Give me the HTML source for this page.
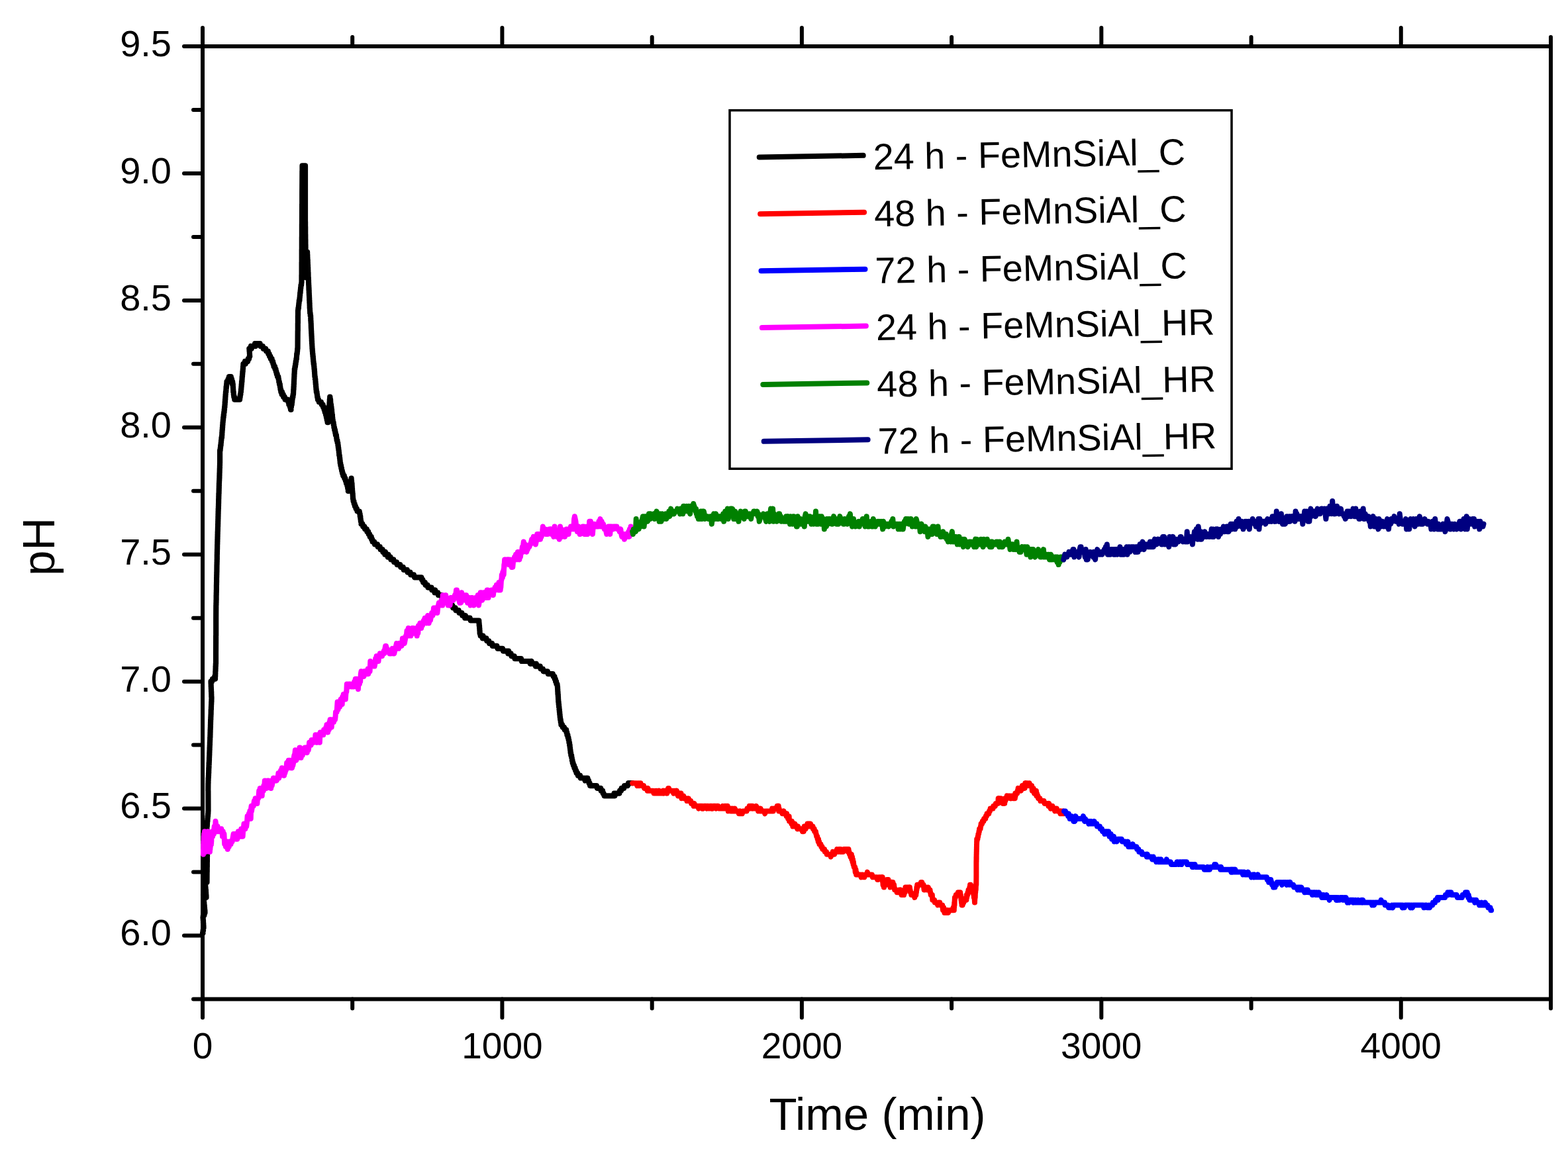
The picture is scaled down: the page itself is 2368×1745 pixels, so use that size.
<!DOCTYPE html>
<html><head><meta charset="utf-8"><title>pH vs Time</title>
<style>html,body{margin:0;padding:0;background:#fff;}body{width:2368px;height:1745px;overflow:hidden;}svg{display:block;}</style>
</head><body>
<svg width="2368" height="1745" viewBox="0 0 2368 1745">
<rect width="2368" height="1745" fill="#fff"/>
<path d="M306,70 H2342 M306,1509.5 H2342 M306,70 V1509.5 M2342,70 V1509.5" stroke="#000" stroke-width="6" stroke-linecap="square" fill="none"/>
<path d="M306,1509.5 V1537.5 M306,70 V42 M532.2,1509.5 V1523.5 M532.2,70 V56 M758.4,1509.5 V1537.5 M758.4,70 V42 M984.7,1509.5 V1523.5 M984.7,70 V56 M1210.9,1509.5 V1537.5 M1210.9,70 V42 M1437.1,1509.5 V1523.5 M1437.1,70 V56 M1663.3,1509.5 V1537.5 M1663.3,70 V42 M1889.6,1509.5 V1523.5 M1889.6,70 V56 M2115.8,1509.5 V1537.5 M2115.8,70 V42 M2342,1509.5 V1523.5 M2342,70 V56 M306,1509.5 H292 M306,1413.5 H278 M306,1317.6 H292 M306,1221.6 H278 M306,1125.6 H292 M306,1029.7 H278 M306,933.7 H292 M306,837.7 H278 M306,741.8 H292 M306,645.8 H278 M306,549.8 H292 M306,453.9 H278 M306,357.9 H292 M306,261.9 H278 M306,166 H292 M306,70 H278" stroke="#000" stroke-width="6" stroke-linecap="round" fill="none"/>
<path d="M306,1409.7 L306.5,1409.7 L306.6,1405.9 L307,1405.9 L307.1,1402 L307.5,1402 L307.4,1398.2 L307.3,1398.2 L307.2,1394.4 L307,1394.4 L307,1390.5 L306.8,1390.5 L306.7,1386.7 L306.5,1386.7 L306.9,1382.8 L308.4,1382.8 L308.8,1379 L309.5,1379 L309.4,1375.2 L309.1,1375.2 L309,1371.3 L308.8,1371.3 L308.7,1367.5 L308.4,1367.5 L308.3,1363.6 L308,1363.6 L307.9,1359.8 L307.7,1359.8 L307.6,1356 L307.4,1356 L307.3,1352.1 L307,1352.1 L310.4,1352.1 L311.5,1356 L311.4,1352.1 L311.2,1352.1 L311.1,1348.3 L311,1348.3 L310.9,1344.4 L310.6,1344.4 L310.5,1340.6 L310.3,1340.6 L310.2,1336.8 L310.1,1336.8 L310,1332.9 L309.9,1336.8 L309.9,1332.9 L309.7,1332.9 L309.6,1329.1 L309.4,1329.1 L309.3,1325.3 L309.2,1325.3 L309.1,1321.4 L309,1321.4 L309.4,1325.3 L310.6,1325.3 L310.9,1329.1 L312.1,1329.1 L312.5,1332.9 L312.6,1317.6 L312.7,1317.6 L312.7,1309.9 L312.8,1309.9 L312.8,1302.2 L312.9,1302.2 L312.9,1294.5 L313,1294.5 L313,1290.7 L313,1294.5 L313,1290.7 L312.9,1290.7 L312.8,1286.9 L312.5,1286.9 L312.5,1283 L312.2,1283 L312.1,1279.2 L311.8,1279.2 L311.7,1275.4 L311.5,1275.4 L311.5,1271.5 L311.3,1271.5 L311.2,1267.7 L311,1267.7 L311.2,1267.7 L311.2,1263.8 L311.5,1263.8 L311.6,1260 L311.7,1260 L311.8,1256.2 L312.1,1256.2 L312.1,1252.3 L312.4,1252.3 L312.5,1248.5 L312.6,1248.5 L312.7,1244.6 L312.8,1248.5 L312.9,1244.6 L313,1244.6 L313,1240.8 L313.4,1240.8 L313.4,1237 L313.6,1237 L313.7,1233.1 L314,1233.1 L314.1,1229.3 L314.3,1229.3 L314.4,1225.4 L314.5,1225.4 L314.4,1194.7 L314.3,1194.7 L314.4,1183.2 L314.5,1183.2 L314.5,1179.4 L314.6,1179.4 L314.6,1175.5 L314.8,1175.5 L314.9,1171.7 L315,1171.7 L315,1167.9 L315.2,1167.9 L315.2,1164 L315.3,1164 L315.3,1160.2 L315.5,1160.2 L315.5,1156.4 L315.6,1156.4 L315.6,1152.5 L315.7,1156.4 L315.7,1152.5 L315.8,1152.5 L315.9,1148.7 L316,1148.7 L316,1144.8 L316.1,1144.8 L316.2,1141 L316.3,1141 L316.3,1137.2 L316.4,1137.2 L316.5,1133.3 L316.6,1133.3 L316.6,1129.5 L316.7,1129.5 L316.8,1125.6 L316.9,1125.6 L316.9,1121.8 L317,1121.8 L317.1,1118 L317.2,1118 L317.2,1114.1 L317.4,1114.1 L317.4,1110.3 L317.5,1110.3 L317.5,1106.4 L317.6,1106.4 L317.6,1102.6 L317.7,1102.6 L317.8,1098.8 L317.9,1098.8 L317.9,1094.9 L318,1094.9 L318,1091.1 L318.1,1091.1 L318.1,1087.3 L318.3,1087.3 L318.3,1083.4 L318.4,1083.4 L318.5,1079.6 L318.6,1079.6 L318.7,1071.9 L318.9,1071.9 L318.9,1068.1 L319,1068.1 L319.1,1064.2 L319.2,1064.2 L319.2,1060.4 L319.4,1060.4 L319.4,1056.5 L319.5,1056.5 L319.5,1052.7 L319.3,1052.7 L319.3,1048.9 L319.2,1048.9 L319.2,1045 L319,1045 L319,1041.2 L318.9,1041.2 L318.8,1037.4 L318.7,1037.4 L318.7,1033.5 L318.6,1033.5 L318.5,1029.7 L320.1,1029.7 L320.9,1025.8 L323.4,1025.8 L324.2,1022 L325,1025.8 L325,1022 L325.2,1022 L325.2,1018.2 L325.3,1018.2 L325.3,1014.3 L325.5,1014.3 L325.5,1010.5 L325.6,1010.5 L325.6,1006.6 L325.8,1006.6 L325.8,1002.8 L326,1002.8 L326,987.4 L326.1,968.3 L326.1,972.1 L326.1,960.6 L326.2,960.6 L326.2,945.2 L326.2,949.1 L326.2,933.7 L326.3,914.5 L326.4,914.5 L326.4,910.7 L326.5,910.7 L326.5,906.8 L326.6,906.8 L326.6,899.2 L326.7,899.2 L326.7,895.3 L326.8,895.3 L326.8,891.5 L326.9,891.5 L326.9,883.8 L327,883.8 L327,880 L327.1,880 L327.1,872.3 L327.2,872.3 L327.2,868.4 L327.3,868.4 L327.3,864.6 L327.3,868.4 L327.3,864.6 L327.4,864.6 L327.5,853.1 L327.6,853.1 L327.6,849.3 L327.7,849.3 L327.7,845.4 L327.8,845.4 L327.8,837.7 L327.9,837.7 L327.9,833.9 L328,833.9 L328,830.1 L328.1,830.1 L328.2,822.4 L328.3,822.4 L328.3,818.5 L328.4,818.5 L328.4,814.7 L328.5,814.7 L328.5,810.9 L328.6,810.9 L328.6,807 L328.7,807 L328.7,803.2 L328.8,803.2 L329,795.5 L329.1,795.5 L329.1,791.7 L329.2,791.7 L329.2,787.8 L329.3,787.8 L329.3,784 L329.4,784 L329.4,780.2 L329.5,780.2 L329.5,776.3 L329.6,776.3 L329.6,772.5 L329.7,772.5 L329.7,768.6 L329.9,768.6 L329.9,764.8 L330,764.8 L330,761 L330.1,761 L330.2,753.3 L330.3,753.3 L330.3,749.4 L330.4,749.4 L330.4,745.6 L330.6,745.6 L330.7,737.9 L330.7,741.8 L330.7,737.9 L330.8,737.9 L330.8,734.1 L330.9,734.1 L330.9,730.3 L331,730.3 L331.1,726.4 L331.2,726.4 L331.3,722.6 L331.4,722.6 L331.4,718.7 L331.5,718.7 L331.5,714.9 L331.6,714.9 L331.8,707.2 L331.9,707.2 L331.9,703.4 L332,703.4 L332,699.5 L332.1,699.5 L332.1,680.4 L332.6,680.4 L332.8,676.5 L333,676.5 L333.2,672.7 L333.6,672.7 L333.7,668.8 L333.9,668.8 L334.1,665 L334.3,665 L334.5,661.2 L335,661.2 L335.1,657.3 L335.3,657.3 L335.3,653.5 L335.5,653.5 L335.6,649.6 L335.8,649.6 L335.9,645.8 L336.1,645.8 L336.2,642 L336.4,642 L336.5,638.1 L336.7,638.1 L336.9,634.3 L337.1,634.3 L337.2,630.5 L337.6,630.5 L337.7,626.6 L338.1,626.6 L338.2,622.8 L338.6,622.8 L338.7,618.9 L339,618.9 L339.1,615.1 L339.4,615.1 L339.5,611.3 L339.7,611.3 L339.7,607.4 L340,607.4 L340,603.6 L340.3,603.6 L340.3,599.7 L340.5,599.7 L340.6,595.9 L340.8,595.9 L340.9,592.1 L341.3,592.1 L341.4,588.2 L341.5,588.2 L341.6,584.4 L341.7,588.2 L341.8,584.4 L342,584.4 L342.1,580.5 L342.4,580.5 L342.5,576.7 L344,576.7 L344.5,572.9 L345.4,572.9 L345.9,569 L348.8,569 L349.1,572.9 L350,572.9 L350.3,576.7 L350.6,576.7 L350.9,580.5 L351.2,576.7 L351.5,580.5 L351.8,580.5 L351.8,584.4 L352,584.4 L352.1,588.2 L352.2,588.2 L352.3,592.1 L352.7,592.1 L352.8,595.9 L353,595.9 L353.3,599.7 L354,599.7 L354.3,603.6 L362.1,603.6 L362.3,599.7 L362.7,599.7 L362.9,595.9 L363.4,595.9 L363.6,592.1 L363.9,592.1 L364,588.2 L364.3,588.2 L364.4,584.4 L364.6,584.4 L364.7,580.5 L365,580.5 L365,576.7 L365.4,576.7 L365.5,572.9 L365.6,572.9 L365.7,569 L366,569 L366.1,565.2 L366.3,565.2 L366.4,561.4 L366.7,561.4 L366.8,557.5 L367,557.5 L367.1,553.7 L367.3,553.7 L367.4,549.8 L369.1,549.8 L370,546 L370.8,549.8 L371.6,546 L374.1,546 L374.7,542.2 L376,542.2 L376.7,538.3 L377.3,538.3 L377.1,538.3 L377,534.5 L376.9,534.5 L376.8,530.6 L376.6,530.6 L376.5,526.8 L376.3,526.8 L378,526.8 L378.9,523 L379.8,526.8 L380.6,523 L384.1,523 L385,519.1 L386.1,523 L387.1,519.1 L392.7,519.1 L393.4,523 L396.9,523 L397.6,526.8 L401.2,526.8 L402.1,530.6 L404.8,530.6 L405.2,534.5 L406.6,534.5 L407,538.3 L408.4,538.3 L408.8,542.2 L410.6,542.2 L410.9,546 L412.1,546 L412.4,549.8 L413.2,549.8 L413.5,553.7 L415,553.7 L415.4,557.5 L416.5,557.5 L416.8,561.4 L417.4,561.4 L417.8,565.2 L418.7,565.2 L419,569 L420.3,569 L420.6,572.9 L420.9,572.9 L421.2,576.7 L421.8,576.7 L422,580.5 L422.8,580.5 L422.9,584.4 L423.3,584.4 L423.5,588.2 L424.1,588.2 L424.3,592.1 L425.2,592.1 L425.6,595.9 L426,592.1 L426.4,595.9 L427.7,595.9 L428.1,599.7 L429.8,599.7 L430.6,603.6 L434.5,603.6 L435.3,607.4 L436,607.4 L436.3,611.3 L436.6,607.4 L437,611.3 L437.6,611.3 L438,615.1 L438.6,615.1 L439,618.9 L439.5,618.9 L439.6,615.1 L439.9,615.1 L440.1,611.3 L440.7,611.3 L440.9,607.4 L441.2,607.4 L441.3,603.6 L441.6,603.6 L441.8,599.7 L442.4,599.7 L442.6,595.9 L443,595.9 L443.3,588.2 L443.5,588.2 L443.5,584.4 L443.7,584.4 L443.7,580.5 L443.9,580.5 L443.9,576.7 L444,576.7 L444.1,572.9 L444.2,572.9 L444.3,569 L444.4,569 L444.4,565.2 L444.6,565.2 L444.7,561.4 L444.8,561.4 L444.8,557.5 L445.3,557.5 L445.5,553.7 L446,553.7 L446.2,549.8 L446.6,549.8 L446.7,546 L447.2,546 L447.4,542.2 L447.9,542.2 L448,538.3 L448.1,538.3 L448.2,534.5 L448.7,534.5 L448.9,530.6 L449.1,530.6 L449.2,526.8 L449.5,526.8 L449.7,499.9 L449.8,499.9 L449.8,488.4 L449.9,488.4 L449.9,476.9 L450,476.9 L450,469.2 L450.2,469.2 L450.4,465.4 L450.9,465.4 L451,461.5 L451.2,461.5 L451.4,457.7 L451.6,457.7 L451.8,453.9 L452.4,453.9 L452.5,450 L452.7,450 L452.9,446.2 L453.1,446.2 L453.2,442.4 L453.6,442.4 L453.7,438.5 L453.9,438.5 L454.1,434.7 L454.4,434.7 L454.5,430.8 L455.1,430.8 L455.3,427 L455.5,427 L455.5,415.5 L455.6,415.5 L455.6,396.3 L455.7,396.3 L455.7,377.1 L455.8,377.1 L455.8,357.9 L455.9,357.9 L455.9,338.7 L456,338.7 L456.1,308 L456.2,308 L456.2,292.6 L456.3,277.3 L456.3,281.1 L456.4,258.1 L456.5,258.1 L456.5,250.4 L461,250.4 L461,288.8 L461,285 L461,327.2 L461,323.4 L461,331 L461,327.2 L461,334.9 L461.1,334.9 L461.1,338.7 L461.1,334.9 L461.1,342.5 L461.2,342.5 L461.2,354.1 L461.3,354.1 L461.3,361.7 L461.4,361.7 L461.4,369.4 L461.5,369.4 L461.6,388.6 L461.7,388.6 L461.8,407.8 L461.9,407.8 L461.9,415.5 L462,415.5 L462,419.3 L462.1,419.3 L462.2,415.5 L462.3,415.5 L462.4,411.6 L462.5,411.6 L462.6,407.8 L462.7,407.8 L462.8,404 L462.9,404 L462.9,400.1 L463.1,400.1 L463.1,396.3 L463.2,396.3 L463.3,392.5 L463.4,392.5 L463.4,388.6 L463.6,388.6 L463.7,384.8 L463.8,384.8 L463.9,380.9 L464.1,380.9 L464.1,384.8 L464.3,384.8 L464.3,388.6 L464.4,388.6 L464.5,392.5 L464.7,392.5 L464.7,396.3 L464.8,396.3 L464.8,400.1 L465,400.1 L465,404 L465.2,404 L465.2,407.8 L465.3,407.8 L465.3,411.6 L465.5,411.6 L465.6,419.3 L465.8,419.3 L465.8,423.2 L466,423.2 L466,427 L466.1,427 L466.2,430.8 L466.3,430.8 L466.5,438.5 L466.5,434.7 L466.6,438.5 L466.7,438.5 L466.7,442.4 L466.8,442.4 L466.9,446.2 L467,446.2 L467.1,450 L467.2,450 L467.2,453.9 L467.4,453.9 L467.4,457.7 L467.6,457.7 L467.6,461.5 L467.7,461.5 L467.7,465.4 L467.9,465.4 L468,469.2 L468.1,469.2 L468.2,473.1 L468.6,473.1 L468.7,476.9 L469.1,476.9 L469.2,480.7 L469.3,480.7 L469.3,484.6 L469.5,484.6 L469.6,488.4 L469.7,488.4 L469.9,496.1 L470,496.1 L470.1,499.9 L470.2,499.9 L470.3,503.8 L470.4,503.8 L470.5,507.6 L470.6,507.6 L470.7,511.5 L470.8,511.5 L470.8,515.3 L471,515.3 L471,519.1 L471.2,519.1 L471.3,523 L471.4,523 L471.5,526.8 L471.7,526.8 L471.8,530.6 L472,530.6 L472.1,534.5 L472.4,534.5 L472.5,538.3 L472.8,538.3 L472.9,542.2 L473.1,542.2 L473.2,546 L473.5,546 L473.6,549.8 L474.1,549.8 L474.2,553.7 L474.4,553.7 L474.5,557.5 L474.8,557.5 L474.9,561.4 L475.1,561.4 L475.2,565.2 L475.3,565.2 L475.4,569 L475.8,569 L475.9,572.9 L476.3,572.9 L476.4,576.7 L476.6,576.7 L476.7,580.5 L477,580.5 L477.1,584.4 L477.3,584.4 L477.4,588.2 L477.7,588.2 L477.8,592.1 L478.5,592.1 L478.7,595.9 L479,595.9 L479.2,599.7 L479.7,599.7 L479.9,603.6 L481,603.6 L481.8,607.4 L484.9,607.4 L485.7,611.3 L487.6,611.3 L488,615.1 L489.3,615.1 L489.6,618.9 L490.3,618.9 L490.7,622.8 L491.7,622.8 L492,626.6 L492.6,626.6 L492.9,630.5 L493.5,630.5 L493.7,634.3 L494.3,634.3 L494.6,638.1 L495.4,638.1 L495.5,634.3 L495.7,634.3 L495.8,630.5 L496.1,630.5 L496.2,626.6 L496.3,626.6 L496.4,622.8 L496.4,626.6 L496.5,622.8 L496.6,622.8 L496.7,618.9 L497,618.9 L497.1,615.1 L497.2,615.1 L497.3,611.3 L497.5,611.3 L497.6,607.4 L497.8,607.4 L497.8,603.6 L498.1,603.6 L498.2,599.7 L498.4,599.7 L498.6,603.6 L499.1,603.6 L499.2,607.4 L499.3,607.4 L499.4,611.3 L500,611.3 L500.1,615.1 L500.5,615.1 L500.6,618.9 L501,618.9 L501.1,622.8 L501.3,622.8 L501.5,626.6 L501.9,626.6 L502,630.5 L502.2,630.5 L502.4,634.3 L502.7,634.3 L502.9,638.1 L503.6,638.1 L503.8,642 L504.2,642 L504.4,645.8 L505,645.8 L505.2,649.6 L506,649.6 L506.2,653.5 L506.7,653.5 L506.9,657.3 L507.9,657.3 L508.1,661.2 L508.4,661.2 L508.6,665 L509.4,665 L509.6,668.8 L510.2,668.8 L510.4,672.7 L510.7,672.7 L510.9,676.5 L511.2,676.5 L511.4,680.4 L511.7,680.4 L511.9,684.2 L512.1,684.2 L512.2,688 L512.7,688 L512.9,691.9 L513.2,691.9 L513.4,695.7 L513.6,695.7 L513.7,699.5 L514.2,699.5 L514.4,703.4 L515.1,703.4 L515.3,707.2 L515.9,707.2 L516.1,711.1 L516.8,711.1 L517,714.9 L517.8,714.9 L518.2,718.7 L519.8,718.7 L520.2,722.6 L521.4,722.6 L521.8,726.4 L522.6,726.4 L523,730.3 L524.2,730.3 L524.4,734.1 L525.1,734.1 L525.2,737.9 L525.6,737.9 L525.8,741.8 L526.4,741.8 L526.6,737.9 L527.4,737.9 L527.6,734.1 L528.4,734.1 L528.6,730.3 L529.4,730.3 L529.6,726.4 L530.4,726.4 L530.6,722.6 L530.7,726.4 L531,726.4 L531,730.3 L531.3,730.3 L531.4,734.1 L531.5,730.3 L531.6,734.1 L531.7,734.1 L531.8,737.9 L532,737.9 L532.1,741.8 L532.3,741.8 L532.4,745.6 L532.7,745.6 L532.8,749.4 L532.9,749.4 L533,753.3 L533.3,753.3 L533.6,757.1 L534.4,757.1 L534.7,761 L535.6,761 L535.9,764.8 L537,764.8 L537.6,768.6 L538.9,768.6 L539.5,772.5 L542.7,772.5 L543.3,776.3 L543.6,776.3 L543.8,780.2 L544.3,780.2 L544.4,784 L544.7,784 L544.9,787.8 L545.4,787.8 L545.5,791.7 L547.5,791.7 L548.2,795.5 L550.4,795.5 L551.1,799.4 L553.8,799.4 L554.3,803.2 L556.2,803.2 L556.7,807 L558.2,807 L558.7,810.9 L560.7,810.9 L561.1,814.7 L562.1,814.7 L562.6,818.5 L565.2,818.5 L566,822.4 L569.9,822.4 L570.7,826.2 L573.8,826.2 L574.6,830.1 L577.6,830.1 L578.3,833.9 L580.5,833.9 L581.3,837.7 L582,833.9 L582.8,837.7 L585,837.7 L585.7,841.6 L586.5,837.7 L587.2,841.6 L589.6,841.6 L590.4,845.4 L594.3,845.4 L595.1,849.3 L599,849.3 L599.8,853.1 L604.3,853.1 L605.2,856.9 L608.8,856.9 L609.7,860.8 L614.8,860.8 L615.5,864.6 L619.5,864.6 L620.3,868.4 L625,868.4 L626,872.3 L636.4,872.3 L637.1,876.1 L638.5,876.1 L639.1,880 L641.9,880 L642.5,883.8 L645.6,883.8 L646.4,887.6 L651.5,887.6 L652.3,891.5 L655.7,891.5 L656.5,895.3 L657.3,891.5 L658.1,895.3 L661.2,895.3 L662,899.2 L666.7,899.2 L667.4,903 L669.8,903 L670.6,906.8 L675.3,906.8 L676.1,910.7 L679.2,910.7 L680,914.5 L683.3,914.5 L684.2,918.4 L687.6,918.4 L688.5,922.2 L692.7,922.2 L693.5,926 L697.4,926 L698.2,929.9 L701.3,929.9 L702.1,933.7 L702.9,929.9 L703.7,933.7 L709.7,933.7 L710.7,937.5 L723.3,937.5 L723.4,941.4 L723.6,941.4 L723.7,945.2 L724,945.2 L724.1,949.1 L724.3,949.1 L724.4,952.9 L724.6,952.9 L724.6,956.7 L724.9,956.7 L725.7,960.6 L728.1,960.6 L728.9,964.4 L729.6,960.6 L730.4,964.4 L734.4,964.4 L735.2,968.3 L738.3,968.3 L739.1,972.1 L743,972.1 L743.8,975.9 L750.4,975.9 L751.4,979.8 L759,979.8 L760,983.6 L766.4,983.6 L767.3,987.4 L768.2,983.6 L769,987.4 L771.6,987.4 L772.4,991.3 L776.7,991.3 L777.5,995.1 L787,995.1 L787.9,999 L799.7,999 L800.7,1002.8 L801.7,1002.8 L802.7,999 L803.7,1002.8 L808.2,1002.8 L809,1006.6 L809.9,1002.8 L810.7,1006.6 L815.7,1006.6 L816.5,1010.5 L819.8,1010.5 L820.7,1014.3 L826.9,1014.3 L827.8,1018.2 L834.8,1018.2 L835.7,1022 L837.4,1022 L837.7,1025.8 L838.8,1025.8 L839.1,1029.7 L840.1,1029.7 L840.4,1033.5 L841.5,1033.5 L841.8,1037.4 L842,1037.4 L842.1,1041.2 L842.2,1041.2 L842.3,1045 L842.4,1045 L842.5,1048.9 L842.5,1045 L842.6,1048.9 L842.8,1048.9 L842.9,1052.7 L843,1052.7 L843.1,1056.5 L843.2,1056.5 L843.3,1060.4 L843.6,1060.4 L843.7,1064.2 L844,1064.2 L844.1,1068.1 L844.4,1068.1 L844.5,1071.9 L844.8,1071.9 L844.9,1075.7 L845.2,1075.7 L845.3,1079.6 L845.6,1079.6 L845.7,1083.4 L846,1083.4 L846.2,1087.3 L846.7,1087.3 L846.8,1091.1 L847.3,1091.1 L847.4,1094.9 L849.1,1094.9 L849.8,1098.8 L852,1098.8 L852.7,1102.6 L855.2,1102.6 L855.4,1106.4 L856.2,1106.4 L856.4,1110.3 L857.4,1110.3 L857.7,1114.1 L858.4,1114.1 L858.7,1118 L859.2,1118 L859.4,1121.8 L860,1121.8 L860.1,1125.6 L860.6,1125.6 L860.7,1129.5 L861,1129.5 L861.2,1133.3 L861.5,1133.3 L861.6,1137.2 L862.1,1137.2 L862.3,1141 L863.1,1141 L863.3,1144.8 L863.7,1144.8 L863.9,1148.7 L864.5,1148.7 L864.7,1152.5 L865.5,1152.5 L865.9,1156.4 L867,1156.4 L867.4,1160.2 L868.6,1160.2 L869,1164 L870.1,1164 L870.5,1167.9 L872.2,1167.9 L872.9,1171.7 L876.1,1171.7 L876.8,1175.5 L882.5,1175.5 L883.6,1179.4 L884.7,1175.5 L887.4,1175.5 L888,1179.4 L889,1179.4 L889.5,1183.2 L890.6,1183.2 L891.1,1187.1 L901,1187.1 L901.9,1190.9 L907.2,1190.9 L907.7,1194.7 L910.1,1194.7 L910.6,1198.6 L911.6,1198.6 L912.6,1202.4 L926.6,1202.4 L927.5,1198.6 L928.5,1202.4 L929.5,1198.6 L935.4,1198.6 L936,1194.7 L938,1194.7 L938.6,1190.9 L942.2,1190.9 L943,1187.1 L947.9,1187.1 L948.9,1183.2 L955.2,1183.2" fill="none" stroke="#000" stroke-width="8.2" stroke-linejoin="round" stroke-linecap="round"/>
<path d="M955.2,1183.2 L961.2,1183.2 L962.2,1187.1 L963.2,1183.2 L964.2,1183.2 L965.2,1187.1 L966,1183.2 L967.5,1183.2 L968.2,1187.1 L972.1,1187.1 L973,1190.9 L976.7,1190.9 L977.6,1194.7 L978.5,1190.9 L979.4,1194.7 L986.4,1194.7 L987.4,1198.6 L989.4,1198.6 L990.4,1194.7 L991.4,1194.7 L992.5,1198.6 L994.5,1198.6 L995.5,1194.7 L996.5,1198.6 L1000.6,1198.6 L1001.6,1194.7 L1002.4,1198.6 L1003.3,1194.7 L1006.6,1194.7 L1007.4,1198.6 L1009.1,1190.9 L1010.1,1190.9 L1011.1,1194.7 L1016.2,1194.7 L1017.2,1198.6 L1018.2,1194.7 L1019.2,1194.7 L1020.1,1198.6 L1021,1198.6 L1022,1194.7 L1023.9,1202.4 L1024.8,1198.6 L1025.8,1202.4 L1026.7,1198.6 L1028.5,1198.6 L1029.4,1206.3 L1030.3,1202.4 L1032.2,1202.4 L1033.1,1206.3 L1036.6,1206.3 L1037.4,1210.1 L1039,1210.1 L1039.9,1206.3 L1040.7,1210.1 L1043.2,1210.1 L1044,1213.9 L1046.7,1213.9 L1047.6,1217.8 L1048.5,1213.9 L1049.5,1217.8 L1054.1,1217.8 L1055.1,1221.6 L1056.1,1217.8 L1059.2,1217.8 L1060.2,1221.6 L1061.2,1217.8 L1062.2,1221.6 L1063.2,1217.8 L1066.3,1217.8 L1067.3,1221.6 L1068.3,1217.8 L1069.3,1217.8 L1070.3,1221.6 L1071.3,1221.6 L1072.3,1217.8 L1073.4,1217.8 L1074.4,1221.6 L1075.4,1217.8 L1076.4,1221.6 L1077.4,1217.8 L1080.4,1217.8 L1081.4,1221.6 L1082.5,1217.8 L1084.5,1217.8 L1085.5,1221.6 L1090.6,1221.6 L1091.6,1217.8 L1092.6,1221.6 L1093.6,1221.6 L1094.6,1217.8 L1095.6,1217.8 L1096.6,1221.6 L1097.6,1217.8 L1098.7,1217.8 L1099.7,1225.4 L1100.7,1221.6 L1102.7,1221.6 L1103.7,1225.4 L1104.7,1221.6 L1105.7,1225.4 L1106.7,1221.6 L1107.7,1225.4 L1108.7,1225.4 L1109.8,1221.6 L1110.8,1225.4 L1114.8,1225.4 L1115.8,1229.3 L1116.8,1229.3 L1117.8,1225.4 L1118.8,1229.3 L1120.8,1229.3 L1121.9,1225.4 L1127.6,1225.4 L1128.4,1221.6 L1130.9,1221.6 L1131.7,1217.8 L1132.5,1221.6 L1133.3,1217.8 L1135,1217.8 L1136,1221.6 L1137,1217.8 L1138,1221.6 L1141.1,1221.6 L1142.1,1217.8 L1143.1,1221.6 L1144.1,1221.6 L1145,1225.4 L1145.9,1221.6 L1146.8,1221.6 L1147.7,1225.4 L1148.7,1221.6 L1149.6,1225.4 L1154.2,1225.4 L1155.2,1229.3 L1156.2,1225.4 L1165.3,1225.4 L1166.1,1221.6 L1167,1225.4 L1167.8,1225.4 L1168.6,1221.6 L1172.7,1221.6 L1173.6,1217.8 L1174.8,1217.8 L1175.3,1221.6 L1175.7,1217.8 L1176.2,1225.4 L1176.6,1221.6 L1177.1,1225.4 L1180.5,1225.4 L1181.5,1229.3 L1182.6,1229.3 L1183.6,1225.4 L1184.6,1229.3 L1187.1,1229.3 L1187.6,1233.1 L1188.1,1229.3 L1188.6,1233.1 L1189.6,1233.1 L1190.1,1237 L1191.1,1237 L1191.6,1233.1 L1192.1,1240.8 L1194.6,1240.8 L1195.3,1244.6 L1196,1240.8 L1197.3,1248.5 L1198,1244.6 L1198.7,1248.5 L1199.6,1248.5 L1200.5,1244.6 L1201.4,1248.5 L1203.2,1248.5 L1204.2,1252.3 L1205.1,1248.5 L1206,1252.3 L1210.8,1252.3 L1211.9,1256.2 L1212.9,1252.3 L1213.9,1256.2 L1214.6,1248.5 L1215.3,1252.3 L1216.7,1252.3 L1217.4,1248.5 L1218.7,1248.5 L1219.4,1244.6 L1220.1,1244.6 L1220.8,1248.5 L1221.5,1244.6 L1222.4,1244.6 L1223.2,1248.5 L1224.1,1244.6 L1224.9,1248.5 L1227.5,1248.5 L1227.9,1252.3 L1229.7,1252.3 L1230.1,1256.2 L1231.9,1256.2 L1232.3,1260 L1232.7,1260 L1233.2,1263.8 L1234.3,1263.8 L1234.6,1267.7 L1235.3,1267.7 L1235.7,1271.5 L1236,1267.7 L1236.4,1271.5 L1237.1,1271.5 L1237.4,1275.4 L1239.5,1275.4 L1240.2,1279.2 L1241.6,1279.2 L1242.2,1283 L1245,1283 L1245.7,1286.9 L1248,1286.9 L1248.7,1290.7 L1254,1290.7 L1254.8,1294.5 L1255.6,1290.7 L1257.1,1290.7 L1257.8,1286.9 L1258.6,1290.7 L1260.1,1290.7 L1260.9,1286.9 L1262.9,1286.9 L1264,1283 L1265,1286.9 L1266,1286.9 L1267,1283 L1268,1283 L1269.1,1286.9 L1270.1,1283 L1271.2,1286.9 L1273.3,1286.9 L1274.3,1283 L1279.6,1283 L1280.6,1286.9 L1281.1,1286.9 L1281.5,1283 L1282,1286.9 L1282.5,1286.9 L1282.9,1290.7 L1283.9,1290.7 L1284.4,1294.5 L1284.8,1290.7 L1285.3,1294.5 L1285.8,1290.7 L1286.2,1298.4 L1286.7,1298.4 L1287,1294.5 L1287.5,1302.2 L1287.8,1298.4 L1288,1298.4 L1288.6,1306.1 L1288.9,1302.2 L1289.1,1306.1 L1289.4,1306.1 L1289.7,1309.9 L1291.1,1309.9 L1291.7,1317.6 L1291.9,1313.7 L1292.2,1317.6 L1292.5,1313.7 L1293.1,1321.4 L1293.4,1317.6 L1294.4,1321.4 L1299.5,1321.4 L1300.5,1325.3 L1301.6,1321.4 L1302.6,1321.4 L1303.6,1325.3 L1305.4,1325.3 L1306.3,1321.4 L1309,1321.4 L1309.9,1317.6 L1310.8,1321.4 L1316.9,1321.4 L1317.8,1325.3 L1324.1,1325.3 L1325.1,1329.1 L1326.1,1329.1 L1327.1,1325.3 L1332,1325.3 L1332.2,1329.1 L1332.4,1325.3 L1332.7,1325.3 L1333.1,1332.9 L1333.3,1329.1 L1333.5,1336.8 L1333.8,1332.9 L1334,1336.8 L1334.7,1336.8 L1334.9,1340.6 L1335.1,1340.6 L1335.5,1336.8 L1336.4,1336.8 L1336.8,1332.9 L1337.7,1332.9 L1338.1,1336.8 L1338.5,1332.9 L1338.9,1332.9 L1339.4,1329.1 L1340.7,1329.1 L1341.1,1332.9 L1341.5,1329.1 L1342.4,1336.8 L1342.8,1332.9 L1343.2,1336.8 L1344.1,1336.8 L1344.5,1340.6 L1345,1336.8 L1346.3,1336.8 L1346.8,1332.9 L1347.2,1336.8 L1347.7,1332.9 L1348,1336.8 L1348.4,1332.9 L1348.7,1336.8 L1349.4,1336.8 L1349.7,1340.6 L1350.1,1336.8 L1350.4,1340.6 L1350.7,1340.6 L1351.1,1344.4 L1353.5,1344.4 L1354.5,1348.3 L1356.6,1348.3 L1357.7,1344.4 L1359.2,1344.4 L1359.6,1348.3 L1360.1,1344.4 L1360.6,1348.3 L1361.1,1348.3 L1361.5,1352.1 L1365.1,1352.1 L1365.4,1348.3 L1366.8,1348.3 L1367.4,1340.6 L1367.8,1344.4 L1368.1,1344.4 L1369.3,1340.6 L1373.2,1340.6 L1373.6,1344.4 L1373.9,1340.6 L1374.2,1344.4 L1374.6,1344.4 L1374.9,1348.3 L1375.9,1348.3 L1376.3,1352.1 L1380.3,1352.1 L1381.3,1356 L1382.2,1352.1 L1383.3,1352.1 L1383.4,1348.3 L1383.9,1348.3 L1384.1,1344.4 L1384.2,1344.4 L1384.4,1340.6 L1384.5,1344.4 L1384.7,1340.6 L1385,1340.6 L1385.2,1336.8 L1385.3,1336.8 L1385.5,1340.6 L1386.4,1336.8 L1390,1336.8 L1390.9,1332.9 L1392.3,1332.9 L1392.7,1336.8 L1394.6,1336.8 L1395.6,1344.4 L1396.5,1344.4 L1397.5,1340.6 L1398.6,1340.6 L1399.7,1344.4 L1400.7,1344.4 L1401.8,1340.6 L1402.8,1344.4 L1404.5,1344.4 L1404.9,1348.3 L1405.3,1348.3 L1405.7,1352.1 L1407.8,1352.1 L1408.3,1359.8 L1411.1,1359.8 L1411.8,1363.6 L1415,1363.6 L1416.2,1367.5 L1417.3,1363.6 L1419.3,1363.6 L1420.1,1367.5 L1423.2,1367.5 L1424,1375.2 L1424.8,1375.2 L1425.2,1371.3 L1425.6,1375.2 L1426,1375.2 L1426.4,1379 L1427.5,1375.2 L1428.7,1379 L1429.8,1379 L1430.9,1375.2 L1432,1379 L1433.2,1375.2 L1438.5,1375.2 L1439.5,1371.3 L1440.6,1375.2 L1440.8,1375.2 L1440.9,1367.5 L1441,1371.3 L1441.1,1367.5 L1441.2,1367.5 L1441.3,1363.6 L1441.3,1367.5 L1441.4,1363.6 L1441.5,1367.5 L1441.7,1359.8 L1441.8,1359.8 L1441.9,1356 L1442.9,1356 L1443.7,1352.1 L1446,1352.1 L1446.8,1348.3 L1450.2,1348.3 L1450.4,1352.1 L1450.9,1352.1 L1451.1,1356 L1451.3,1356 L1451.5,1359.8 L1451.8,1359.8 L1452,1363.6 L1452.4,1363.6 L1452.6,1367.5 L1452.7,1363.6 L1452.9,1367.5 L1453.1,1363.6 L1453.7,1367.5 L1454.2,1363.6 L1455.4,1363.6 L1456,1359.8 L1458.3,1359.8 L1458.8,1356 L1459.4,1359.8 L1459.8,1352.1 L1460.1,1356 L1460.5,1352.1 L1461.2,1352.1 L1461.5,1348.3 L1462.2,1348.3 L1462.5,1344.4 L1462.9,1348.3 L1463.2,1348.3 L1463.6,1344.4 L1464,1344.4 L1464.3,1340.6 L1464.7,1344.4 L1465,1336.8 L1466,1336.8 L1467,1340.6 L1469.1,1340.6 L1469.4,1348.3 L1469.6,1344.4 L1469.8,1348.3 L1470.2,1348.3 L1470.4,1352.1 L1470.7,1352.1 L1470.9,1356 L1471.1,1356 L1471.3,1352.1 L1471.5,1356 L1471.6,1356 L1472,1363.6 L1472.1,1359.8 L1472.2,1359.8 L1472.3,1356 L1472.5,1356 L1472.6,1352.1 L1472.7,1356 L1472.9,1348.3 L1473.2,1348.3 L1473.3,1344.4 L1473.5,1344.4 L1473.6,1340.6 L1473.7,1344.4 L1473.9,1336.8 L1474.1,1336.8 L1474.2,1332.9 L1474.3,1336.8 L1474.4,1321.4 L1474.4,1325.3 L1474.4,1317.6 L1474.4,1321.4 L1474.4,1302.2 L1474.5,1298.4 L1474.5,1302.2 L1474.5,1294.5 L1474.6,1298.4 L1474.6,1290.7 L1474.7,1290.7 L1474.7,1286.9 L1474.8,1286.9 L1474.8,1283 L1474.9,1283 L1474.9,1279.2 L1475,1279.2 L1475,1275.4 L1475.1,1275.4 L1475.1,1271.5 L1475.2,1271.5 L1475.2,1267.7 L1475.4,1271.5 L1475.7,1267.7 L1476.4,1267.7 L1476.7,1263.8 L1477.2,1263.8 L1477.4,1260 L1478.1,1260 L1478.4,1256.2 L1478.9,1256.2 L1479.1,1252.3 L1480.6,1252.3 L1480.9,1248.5 L1481.3,1248.5 L1481.6,1244.6 L1483.1,1244.6 L1483.7,1240.8 L1485.4,1240.8 L1486,1237 L1488.3,1237 L1488.8,1233.1 L1490,1233.1 L1490.5,1229.3 L1493.3,1229.3 L1493.9,1225.4 L1495,1225.4 L1495.6,1221.6 L1499.5,1221.6 L1500.3,1217.8 L1502.9,1217.8 L1503.8,1213.9 L1507.3,1213.9 L1507.6,1206.3 L1507.8,1210.1 L1508,1206.3 L1509,1206.3 L1509.8,1210.1 L1510.6,1206.3 L1511.4,1210.1 L1512.2,1206.3 L1512.9,1210.1 L1513.7,1210.1 L1514.5,1213.9 L1515.3,1213.9 L1516.1,1210.1 L1516.7,1210.1 L1517.2,1213.9 L1517.8,1206.3 L1518.4,1210.1 L1519,1206.3 L1520.1,1206.3 L1520.7,1202.4 L1521.3,1206.3 L1521.8,1202.4 L1525.5,1202.4 L1526.6,1206.3 L1527.6,1202.4 L1529.7,1202.4 L1530.8,1206.3 L1531.8,1206.3 L1532.3,1202.4 L1532.8,1206.3 L1533.3,1198.6 L1533.7,1202.4 L1534.2,1198.6 L1536.2,1198.6 L1536.6,1194.7 L1537.1,1194.7 L1537.6,1190.9 L1538.1,1194.7 L1539,1190.9 L1540.9,1190.9 L1541.9,1194.7 L1543.8,1187.1 L1544.8,1190.9 L1545.7,1187.1 L1546.6,1190.9 L1547.6,1190.9 L1547.8,1187.1 L1548,1187.1 L1548.2,1183.2 L1548.4,1187.1 L1548.6,1187.1 L1548.8,1183.2 L1549,1187.1 L1549.2,1183.2 L1550.1,1183.2 L1551,1187.1 L1551.9,1183.2 L1552.8,1187.1 L1553.7,1187.1 L1554.6,1183.2 L1555.5,1187.1 L1558.1,1187.1 L1558.8,1194.7 L1559.4,1190.9 L1560,1194.7 L1560.7,1190.9 L1562,1198.6 L1562.6,1194.7 L1563.3,1198.6 L1564.3,1198.6 L1564.9,1194.7 L1565.4,1202.4 L1565.9,1198.6 L1566.4,1202.4 L1567.5,1202.4 L1568,1206.3 L1570.5,1206.3 L1571.3,1210.1 L1576.5,1210.1 L1577.4,1213.9 L1582.5,1213.9 L1583.4,1217.8 L1584.2,1213.9 L1585.1,1217.8 L1585.9,1217.8 L1586.8,1221.6 L1587.6,1217.8 L1589.4,1217.8 L1590.3,1221.6 L1592.2,1221.6 L1593.1,1225.4 L1594,1221.6 L1595.8,1221.6 L1596.8,1225.4 L1600.5,1225.4 L1601.4,1229.3 L1602.4,1225.4 L1603.3,1229.3 L1604.3,1229.3 L1605.5,1225.4 L1606.8,1229.3 L1608,1229.3" fill="none" stroke="#ff0000" stroke-width="8" stroke-linejoin="round" stroke-linecap="round"/>
<path d="M1607,1225.4 L1609,1225.4 L1610,1229.3 L1612,1229.3 L1613,1233.1 L1614,1229.3 L1615.6,1237 L1616.4,1233.1 L1617.9,1233.1 L1618.7,1237 L1620.3,1237 L1621.3,1240.8 L1622.4,1237 L1623.4,1240.8 L1624.5,1233.1 L1625.5,1237 L1634.8,1237 L1635.9,1233.1 L1638,1240.8 L1639,1237 L1639.9,1240.8 L1643.3,1240.8 L1644.2,1244.6 L1645.1,1240.8 L1645.9,1244.6 L1646.8,1244.6 L1647.8,1240.8 L1648.8,1244.6 L1651.7,1244.6 L1652.6,1240.8 L1653.6,1244.6 L1656.2,1244.6 L1656.9,1248.5 L1660.9,1248.5 L1661.7,1252.3 L1664,1252.3 L1664.9,1256.2 L1667.4,1256.2 L1668.3,1260 L1669.1,1256.2 L1671.7,1256.2 L1672.5,1260 L1673.4,1256.2 L1674.1,1256.2 L1675.5,1263.8 L1676.3,1260 L1677,1263.8 L1677.7,1260 L1679.1,1267.7 L1679.8,1263.8 L1680.6,1263.8 L1681.3,1267.7 L1682,1263.8 L1682.7,1271.5 L1683.7,1267.7 L1685.7,1267.7 L1686.7,1271.5 L1687.7,1267.7 L1693.8,1267.7 L1694.8,1271.5 L1699.6,1271.5 L1700.6,1275.4 L1702.4,1275.4 L1703.4,1271.5 L1704.3,1279.2 L1705.3,1275.4 L1706.2,1279.2 L1709.9,1279.2 L1710.8,1275.4 L1711.8,1279.2 L1716.3,1279.2 L1717.1,1283 L1719.4,1283 L1720.2,1286.9 L1724.1,1286.9 L1724.9,1290.7 L1730.8,1290.7 L1731.8,1294.5 L1732.8,1290.7 L1733.8,1294.5 L1739.2,1294.5 L1740.1,1298.4 L1740.9,1298.4 L1741.8,1294.5 L1742.6,1298.4 L1745.2,1298.4 L1746.2,1302.2 L1747.3,1298.4 L1748.3,1298.4 L1749.4,1302.2 L1750.4,1298.4 L1751.4,1302.2 L1752.5,1302.2 L1753.5,1298.4 L1754.6,1302.2 L1760.8,1302.2 L1761.8,1298.4 L1762.9,1302.2 L1767.8,1302.2 L1768.8,1306.1 L1776.6,1306.1 L1777.5,1302.2 L1778.5,1302.2 L1779.5,1306.1 L1780.5,1306.1 L1781.5,1302.2 L1782.4,1302.2 L1783.4,1306.1 L1784.4,1306.1 L1785.3,1302.2 L1792,1302.2 L1792.9,1306.1 L1799.7,1306.1 L1800.7,1309.9 L1801.7,1306.1 L1802.6,1309.9 L1803.6,1306.1 L1804.6,1306.1 L1805.6,1309.9 L1817.7,1309.9 L1818.7,1313.7 L1822.8,1313.7 L1823.8,1309.9 L1824.8,1313.7 L1826.9,1313.7 L1827.9,1309.9 L1833.2,1309.9 L1834.2,1306.1 L1835.2,1309.9 L1836.2,1306.1 L1837.2,1309.9 L1842.1,1309.9 L1843.1,1313.7 L1844.1,1309.9 L1845.1,1313.7 L1858.3,1313.7 L1859.3,1317.6 L1860.3,1313.7 L1861.3,1317.6 L1862.4,1313.7 L1863.4,1317.6 L1864.4,1317.6 L1865.4,1313.7 L1866.4,1317.6 L1876.1,1317.6 L1877.1,1321.4 L1878.1,1317.6 L1879,1317.6 L1880,1321.4 L1883.9,1321.4 L1884.9,1317.6 L1885.9,1321.4 L1888.8,1321.4 L1889.8,1325.3 L1890.8,1321.4 L1892.7,1321.4 L1893.7,1325.3 L1894.6,1321.4 L1895.6,1325.3 L1898.7,1325.3 L1899.7,1321.4 L1900.8,1325.3 L1913,1325.3 L1913.8,1329.1 L1915.3,1329.1 L1916.1,1332.9 L1916.9,1329.1 L1919.2,1329.1 L1920,1332.9 L1920.5,1332.9 L1921,1336.8 L1922.6,1336.8 L1923.1,1340.6 L1923.7,1336.8 L1924.2,1336.8 L1924.7,1340.6 L1925.5,1340.6 L1926.2,1336.8 L1927.8,1336.8 L1928.6,1332.9 L1935.1,1332.9 L1936.1,1336.8 L1937.2,1332.9 L1942.3,1332.9 L1943.3,1336.8 L1944.3,1332.9 L1945.4,1332.9 L1946.4,1336.8 L1947.4,1336.8 L1948.4,1332.9 L1949.4,1336.8 L1953.1,1336.8 L1954.1,1340.6 L1958.7,1340.6 L1959.7,1344.4 L1960.6,1340.6 L1961.6,1340.6 L1962.5,1344.4 L1963.5,1340.6 L1964.5,1344.4 L1965.4,1340.6 L1966.4,1344.4 L1969.3,1344.4 L1970.2,1348.3 L1971.2,1348.3 L1972.2,1344.4 L1975,1344.4 L1976,1348.3 L1980.8,1348.3 L1981.8,1352.1 L1982.7,1352.1 L1983.7,1348.3 L1985.8,1348.3 L1986.8,1352.1 L1987.9,1352.1 L1988.9,1348.3 L1989.9,1352.1 L1991,1352.1 L1992,1348.3 L1993.1,1352.1 L1995.1,1352.1 L1996.2,1356 L1997.2,1352.1 L1998.3,1356 L1999.3,1352.1 L2000.3,1356 L2002.4,1356 L2003.5,1352.1 L2004.5,1356 L2006.6,1356 L2007.6,1359.8 L2008.7,1356 L2017,1356 L2018,1359.8 L2019.1,1356 L2020.1,1359.8 L2021.2,1356 L2022.2,1359.8 L2023.3,1359.8 L2024.3,1356 L2027.4,1356 L2028.5,1359.8 L2029.5,1359.8 L2030.6,1356 L2031.6,1359.8 L2032.7,1356 L2034.7,1363.6 L2035.7,1359.8 L2036.6,1359.8 L2037.6,1363.6 L2038.6,1359.8 L2042.5,1359.8 L2043.5,1363.6 L2044.4,1359.8 L2045.4,1363.6 L2046.4,1363.6 L2047.4,1359.8 L2048.3,1363.6 L2050.3,1363.6 L2051.3,1359.8 L2052.3,1363.6 L2055.3,1363.6 L2056.3,1359.8 L2057.3,1363.6 L2058.3,1359.8 L2059.3,1363.6 L2071.2,1363.6 L2072.2,1367.5 L2073.2,1363.6 L2074.2,1363.6 L2075.2,1367.5 L2076.3,1363.6 L2084.6,1363.6 L2085.7,1359.8 L2086.7,1363.6 L2091,1363.6 L2091.8,1367.5 L2096.1,1367.5 L2097.1,1371.3 L2101.3,1371.3 L2102.3,1367.5 L2103.4,1371.3 L2104.4,1367.5 L2116.8,1367.5 L2117.8,1371.3 L2118.8,1367.5 L2119.8,1371.3 L2120.9,1371.3 L2121.9,1367.5 L2129,1367.5 L2130,1371.3 L2131,1367.5 L2132,1367.5 L2133.1,1371.3 L2134.1,1367.5 L2149.3,1367.5 L2150.4,1371.3 L2151.4,1371.3 L2152.4,1367.5 L2154.4,1367.5 L2155.4,1371.3 L2157.5,1371.3 L2158.5,1367.5 L2159.3,1371.3 L2160.1,1367.5 L2163.2,1367.5 L2164,1363.6 L2167.1,1363.6 L2167.9,1359.8 L2170.2,1359.8 L2171,1356 L2171.8,1359.8 L2172.6,1356 L2182.2,1356 L2183,1352.1 L2185.6,1352.1 L2186.4,1348.3 L2187.3,1352.1 L2188.1,1348.3 L2191.5,1348.3 L2192.4,1352.1 L2199.8,1352.1 L2200.9,1356 L2207.9,1356 L2208.8,1352.1 L2212.2,1352.1 L2213,1348.3 L2215.8,1348.3 L2216.3,1352.1 L2216.8,1352.1 L2217.3,1356 L2217.8,1352.1 L2218.4,1356 L2218.9,1356 L2219.4,1359.8 L2226.2,1359.8 L2227.3,1363.6 L2228.3,1359.8 L2229.4,1359.8 L2230.4,1363.6 L2233.2,1363.6 L2234.1,1367.5 L2236.9,1367.5 L2237.8,1363.6 L2238.8,1367.5 L2241.9,1367.5 L2243,1363.6 L2244.2,1367.5 L2246.4,1367.5 L2247.5,1371.3 L2250.6,1371.3 L2251.4,1375.2 L2252.2,1375.2" fill="none" stroke="#0000ff" stroke-width="8" stroke-linejoin="round" stroke-linecap="round"/>
<path d="M307,1290.7 L307,1283 L307.1,1283 L307.1,1275.4 L307.2,1279.2 L307.2,1275.4 L307.2,1279.2 L307.3,1275.4 L307.3,1279.2 L307.3,1271.5 L307.5,1279.2 L307.5,1271.5 L307.6,1271.5 L307.7,1263.8 L307.8,1271.5 L307.8,1263.8 L307.9,1267.7 L307.9,1263.8 L308,1267.7 L308.1,1260 L308.2,1263.8 L308.4,1263.8 L308.5,1271.5 L308.6,1263.8 L308.7,1263.8 L309,1256.2 L309.3,1271.5 L309.4,1271.5 L309.6,1263.8 L309.7,1263.8 L309.8,1267.7 L309.9,1263.8 L310,1263.8 L310.2,1271.5 L310.4,1271.5 L310.6,1279.2 L310.8,1279.2 L310.9,1286.9 L311.1,1279.2 L311.2,1279.2 L311.5,1267.7 L311.7,1279.2 L311.8,1275.4 L312,1275.4 L312.1,1283 L312.2,1275.4 L312.3,1275.4 L312.4,1271.5 L312.6,1275.4 L312.7,1271.5 L312.8,1275.4 L313,1267.7 L313.3,1267.7 L313.4,1263.8 L313.5,1271.5 L313.8,1256.2 L313.9,1256.2 L314.1,1267.7 L314.2,1260 L314.4,1271.5 L314.5,1263.8 L314.6,1271.5 L314.8,1263.8 L314.9,1263.8 L315.2,1275.4 L315.4,1275.4 L315.5,1267.7 L315.6,1271.5 L315.9,1271.5 L316,1275.4 L316.1,1275.4 L316.2,1279.2 L316.4,1279.2 L316.5,1283 L316.6,1279.2 L316.8,1286.9 L316.9,1286.9 L317.1,1279.2 L317.2,1283 L317.4,1283 L317.6,1271.5 L317.7,1279.2 L317.8,1279.2 L317.9,1271.5 L318,1275.4 L318.1,1271.5 L318.2,1271.5 L318.3,1267.7 L318.4,1267.7 L318.6,1271.5 L318.7,1267.7 L318.8,1275.4 L318.9,1275.4 L319,1271.5 L319.1,1275.4 L319.2,1267.7 L319.3,1271.5 L319.4,1263.8 L319.6,1260 L319.7,1263.8 L319.8,1260 L319.9,1263.8 L320,1263.8 L320.4,1256.2 L320.7,1256.2 L321.1,1263.8 L321.5,1260 L322.9,1260 L323.3,1252.3 L323.7,1248.5 L324,1252.3 L324.4,1252.3 L324.8,1248.5 L325.1,1248.5 L325.5,1240.8 L327.6,1256.2 L328.1,1256.2 L328.6,1248.5 L329.2,1256.2 L329.7,1252.3 L330.2,1256.2 L330.8,1256.2 L331.3,1252.3 L331.8,1256.2 L333.9,1256.2 L334.3,1252.3 L334.7,1256.2 L335.5,1256.2 L336,1263.8 L336.4,1263.8 L336.8,1256.2 L337.2,1263.8 L337.6,1260 L338,1263.8 L338.4,1260 L339.2,1275.4 L340.5,1275.4 L340.9,1279.2 L341.3,1271.5 L341.7,1275.4 L342.5,1275.4 L343,1271.5 L343.4,1279.2 L343.8,1283 L344.2,1279.2 L345.9,1279.2 L346.6,1271.5 L347.3,1271.5 L347.9,1275.4 L348.6,1275.4 L349.2,1271.5 L350.6,1271.5 L352.6,1260 L353.2,1267.7 L354.6,1260 L356.1,1267.7 L356.8,1267.7 L357.5,1260 L358.3,1267.7 L359,1263.8 L359.7,1256.2 L360.4,1260 L361.2,1256.2 L361.9,1256.2 L362.4,1263.8 L363.3,1263.8 L363.8,1260 L364.3,1252.3 L365.7,1263.8 L366.1,1260 L366.6,1263.8 L367.1,1256.2 L368.5,1244.6 L369.4,1244.6 L370.4,1252.3 L371.3,1244.6 L371.7,1244.6 L372.2,1248.5 L373.1,1240.8 L373.6,1233.1 L374,1237 L375.4,1237 L375.9,1229.3 L376.4,1237 L376.8,1229.3 L377.3,1225.4 L378.7,1237 L379.1,1221.6 L379.6,1217.8 L380,1225.4 L381.1,1217.8 L382.8,1217.8 L383.9,1210.1 L384.4,1210.1 L385,1213.9 L385.6,1206.3 L386.7,1213.9 L387.3,1213.9 L387.8,1206.3 L388.4,1213.9 L388.9,1206.3 L390.1,1206.3 L390.6,1202.4 L391.2,1194.7 L391.7,1198.6 L392.2,1198.6 L392.7,1190.9 L393.7,1190.9 L394.2,1198.6 L395.2,1198.6 L395.7,1202.4 L396.2,1190.9 L396.8,1194.7 L397.8,1194.7 L398.3,1187.1 L399.3,1187.1 L399.8,1179.4 L400.8,1179.4 L401.3,1183.2 L401.8,1183.2 L402.5,1190.9 L403.3,1187.1 L404,1179.4 L404.8,1187.1 L405.5,1179.4 L406.2,1183.2 L407,1183.2 L407.7,1187.1 L408.5,1183.2 L409.2,1190.9 L409.9,1179.4 L410.7,1187.1 L412.9,1175.5 L413.6,1175.5 L414.4,1179.4 L415.1,1179.4 L416,1175.5 L416.9,1175.5 L417.8,1179.4 L418.6,1175.5 L419.5,1175.5 L420.4,1167.9 L421.3,1175.5 L422.2,1171.7 L423.1,1171.7 L424,1164 L424.9,1167.9 L425.7,1160.2 L426.6,1167.9 L427.5,1167.9 L428.4,1171.7 L429.1,1171.7 L429.7,1167.9 L430.4,1167.9 L431.1,1164 L431.7,1164 L432.4,1160.2 L433.1,1152.5 L433.7,1156.4 L434.4,1156.4 L435.1,1160.2 L435.7,1148.7 L437.7,1148.7 L438.4,1156.4 L439.1,1156.4 L439.7,1160.2 L440.4,1156.4 L441.1,1160.2 L441.7,1156.4 L442.4,1156.4 L443.1,1152.5 L443.7,1144.8 L444.4,1141 L445.1,1141 L445.9,1133.3 L446.6,1137.2 L447.3,1148.7 L448,1141 L448.8,1137.2 L449.5,1137.2 L450.9,1144.8 L452.4,1129.5 L453.1,1129.5 L453.9,1141 L454.6,1144.8 L455.3,1137.2 L456,1141 L456.8,1141 L457.5,1137.2 L458.2,1137.2 L458.9,1133.3 L459.7,1133.3 L460.4,1129.5 L461.7,1129.5 L462.4,1133.3 L463.1,1129.5 L463.7,1137.2 L464.4,1129.5 L465.1,1133.3 L465.7,1133.3 L466.4,1129.5 L467.1,1121.8 L467.7,1125.6 L468.4,1121.8 L469.1,1125.6 L469.7,1125.6 L470.4,1118 L471.1,1118 L471.7,1121.8 L472.4,1118 L473.1,1118 L473.7,1121.8 L474.4,1118 L475.7,1118 L476.4,1110.3 L477.2,1118 L478,1114.1 L478.8,1121.8 L479.6,1110.3 L480.4,1114.1 L481.2,1114.1 L482.8,1121.8 L483.6,1106.4 L485.1,1106.4 L485.9,1110.3 L486.7,1106.4 L487.5,1110.3 L488.3,1110.3 L489.1,1102.6 L489.9,1106.4 L490.7,1102.6 L491.5,1102.6 L492.3,1098.8 L492.9,1102.6 L493.4,1094.9 L494,1098.8 L494.6,1098.8 L495.1,1106.4 L496.2,1098.8 L496.8,1102.6 L497.4,1091.1 L497.9,1091.1 L498.5,1087.3 L499.1,1094.9 L499.6,1087.3 L500.2,1094.9 L500.7,1098.8 L501.3,1091.1 L501.9,1087.3 L503.5,1087.3 L504,1091.1 L504.5,1087.3 L506,1087.3 L506.5,1083.4 L507,1075.7 L508.6,1075.7 L509.6,1060.4 L510.1,1068.1 L510.6,1071.9 L511.6,1064.2 L512.1,1064.2 L512.6,1068.1 L513.1,1068.1 L513.6,1064.2 L514.1,1064.2 L514.6,1056.5 L515.6,1056.5 L516.7,1064.2 L517.2,1052.7 L517.7,1056.5 L518.7,1048.9 L519.7,1048.9 L520.2,1056.5 L521.8,1056.5 L522.3,1048.9 L522.8,1045 L523.3,1045 L523.8,1033.5 L524.3,1033.5 L525,1037.4 L525.8,1037.4 L526.5,1033.5 L527.2,1033.5 L527.9,1037.4 L528.7,1033.5 L529.4,1033.5 L530.1,1037.4 L534.5,1037.4 L535.2,1029.7 L535.9,1033.5 L536.7,1025.8 L538.8,1025.8 L539.6,1033.5 L540.9,1041.2 L541.6,1029.7 L542.2,1029.7 L542.9,1033.5 L543.5,1025.8 L544.2,1029.7 L544.8,1018.2 L545.5,1014.3 L546.1,1022 L547.4,1022 L548.1,1018.2 L548.8,1018.2 L549.4,1022 L550,1014.3 L550.6,1018.2 L551.2,1014.3 L551.9,1014.3 L552.5,1018.2 L553.1,1014.3 L553.7,1018.2 L554.3,1018.2 L555.6,1010.5 L556.2,1018.2 L556.8,1014.3 L558.6,1014.3 L559.3,999 L559.9,1006.6 L560.5,1002.8 L561.2,1002.8 L562,1006.6 L562.7,1002.8 L563.4,1006.6 L565.6,1006.6 L566.4,1002.8 L567.1,995.1 L567.9,995.1 L568.6,991.3 L569.3,995.1 L570.8,995.1 L571.5,999 L572.3,991.3 L573,991.3 L573.8,987.4 L574.7,991.3 L575.5,991.3 L576.3,987.4 L577.2,991.3 L578,987.4 L578.8,987.4 L579.7,983.6 L580.5,987.4 L581.4,979.8 L582.2,975.9 L583,975.9 L583.9,983.6 L584.7,979.8 L585.5,983.6 L587.2,983.6 L588.1,987.4 L589,987.4 L589.9,983.6 L590.8,987.4 L592.6,979.8 L593.5,987.4 L595.3,987.4 L598.9,972.1 L599.8,975.9 L600.5,979.8 L602,979.8 L602.7,972.1 L603.5,975.9 L604.2,972.1 L604.9,972.1 L605.7,975.9 L606.4,975.9 L607.1,972.1 L607.9,964.4 L608.6,968.3 L609.3,964.4 L610.8,972.1 L613,960.6 L613.8,960.6 L614.5,952.9 L615.2,960.6 L616,956.7 L616.7,949.1 L617.5,960.6 L618.2,956.7 L619,960.6 L620.4,960.6 L622.7,949.1 L623.4,956.7 L624.2,949.1 L625.8,956.7 L626.5,952.9 L627.3,952.9 L628.1,949.1 L628.9,949.1 L629.7,960.6 L630.5,949.1 L631.3,956.7 L632,945.2 L632.8,949.1 L633.6,949.1 L634.4,941.4 L635.3,949.1 L636.2,949.1 L637.1,941.4 L638,945.2 L639.8,937.5 L640.7,937.5 L641.6,933.7 L642.5,933.7 L644.3,941.4 L645.2,937.5 L646.1,929.9 L647,933.7 L647.7,941.4 L649.2,933.7 L649.9,937.5 L652.1,926 L652.8,926 L653.6,929.9 L654.3,926 L655,918.4 L656.5,918.4 L657.3,922.2 L658.1,922.2 L658.9,918.4 L660.4,926 L661.2,918.4 L662.8,910.7 L665.9,910.7 L666.5,906.8 L667,914.5 L668.2,914.5 L668.7,899.2 L669.3,906.8 L670.4,906.8 L671,910.7 L672.1,910.7 L672.7,899.2 L673.2,899.2 L673.8,910.7 L674.8,906.8 L675.8,906.8 L676.7,914.5 L677.7,906.8 L679.6,914.5 L680.6,903 L681.6,903 L682.6,906.8 L683.7,903 L684.8,906.8 L686.9,899.2 L687.9,903 L689,891.5 L690,891.5 L691.1,899.2 L692.1,899.2 L693.2,906.8 L694.2,910.7 L695.2,906.8 L696.2,910.7 L697.2,895.3 L698.2,899.2 L701.2,899.2 L702.2,906.8 L703.2,899.2 L704.2,899.2 L705.2,903 L706.1,910.7 L707,903 L708.7,903 L709.6,910.7 L710.5,914.5 L711.3,910.7 L712.2,903 L713.1,903 L715.7,914.5 L716.6,910.7 L717.5,910.7 L718.4,903 L719.2,910.7 L720.1,903 L721,903 L721.7,899.2 L723,914.5 L723.6,910.7 L724.3,903 L725.6,895.3 L726.9,895.3 L727.6,899.2 L728.2,906.8 L728.9,903 L729.9,903 L730.8,895.3 L731.8,903 L732.7,903 L733.7,895.3 L734.7,903 L735.6,891.5 L736.6,891.5 L737.6,903 L738.5,895.3 L739.5,899.2 L740.4,895.3 L741.4,895.3 L742.3,891.5 L743.2,895.3 L744,895.3 L744.9,899.2 L745.8,891.5 L746.7,891.5 L747.5,887.6 L748.4,891.5 L749.3,887.6 L749.8,883.8 L750.2,883.8 L750.6,887.6 L751.1,887.6 L751.5,883.8 L752.5,891.5 L752.9,891.5 L753.4,880 L753.8,883.8 L754.2,880 L754.7,883.8 L755.1,883.8 L755.6,891.5 L756,887.6 L756.3,887.6 L757,876.1 L757.4,876.1 L757.8,868.4 L758.1,872.3 L758.9,872.3 L759.2,864.6 L759.6,868.4 L759.9,864.6 L760.3,868.4 L760.5,860.8 L760.7,868.4 L761.3,853.1 L761.5,856.9 L762.1,845.4 L762.3,845.4 L762.5,849.3 L762.9,849.3 L763.1,845.4 L763.3,849.3 L763.5,845.4 L765.6,845.4 L766.6,849.3 L767.7,845.4 L768.8,853.1 L769.8,845.4 L770.5,845.4 L772.8,856.9 L773.5,853.1 L774.3,856.9 L775,849.3 L777,841.6 L778,845.4 L779,837.7 L779.9,837.7 L780.9,845.4 L781.9,833.9 L782.9,833.9 L783.9,837.7 L784.4,845.4 L784.9,833.9 L785.4,841.6 L785.9,841.6 L786.9,833.9 L787.8,833.9 L788.8,826.2 L789.8,833.9 L790.3,822.4 L790.8,818.5 L791.3,826.2 L791.8,826.2 L792.5,830.1 L793.2,822.4 L795.3,833.9 L796,830.1 L796.9,830.1 L797.8,826.2 L799.5,826.2 L800.4,822.4 L801.3,822.4 L803.1,814.7 L804.8,814.7 L805.7,810.9 L806.5,814.7 L807.3,814.7 L808.1,810.9 L808.9,822.4 L810.5,814.7 L811.2,807 L812,807 L812.8,810.9 L813.6,807 L814.4,814.7 L816,814.7 L816.8,810.9 L817.6,810.9 L819.1,803.2 L819.9,795.5 L821.5,803.2 L822.5,799.4 L823.4,799.4 L824.4,807 L825.3,803.2 L826.3,807 L827.3,807 L829.2,799.4 L830.2,799.4 L831.1,803.2 L832.1,799.4 L833,807 L834,799.4 L834.7,807 L835.5,807 L836.2,810.9 L836.9,807 L837.6,795.5 L838.4,803.2 L839.1,803.2 L840.5,810.9 L842.7,810.9 L843.3,807 L844,807 L844.7,814.7 L845.4,810.9 L846,795.5 L846.7,803.2 L847.4,799.4 L848,799.4 L848.7,810.9 L849.3,807 L852.5,807 L853.2,810.9 L855.2,799.4 L855.9,799.4 L856.5,807 L857.2,803.2 L857.9,807 L858.6,807 L859.2,799.4 L861.3,799.4 L862,795.5 L862.6,799.4 L863.3,799.4 L864,795.5 L865.6,795.5 L866.3,799.4 L867.1,784 L867.9,780.2 L869.5,787.8 L870.2,795.5 L871.8,803.2 L873.1,803.2 L873.7,795.5 L875.6,807 L876.2,807 L876.8,799.4 L877.5,799.4 L878.1,803.2 L879,803.2 L879.9,795.5 L881.7,795.5 L882.6,807 L884.4,807 L884.8,799.4 L885.2,803.2 L885.6,799.4 L886.1,803.2 L886.5,795.5 L886.9,803.2 L887.3,807 L887.7,799.4 L888.1,795.5 L888.6,799.4 L889,795.5 L889.4,799.4 L889.8,795.5 L890.2,787.8 L890.6,795.5 L891.1,791.7 L891.5,791.7 L891.9,787.8 L892.3,795.5 L893.2,799.4 L894.1,799.4 L894.9,807 L895.8,795.5 L896.7,791.7 L897.6,791.7 L898.4,795.5 L903.4,795.5 L904.4,787.8 L905.5,787.8 L906.5,784 L907.1,791.7 L907.6,795.5 L908.8,787.8 L909.9,795.5 L910.5,795.5 L911.1,791.7 L911.7,795.5 L912.2,795.5 L912.8,799.4 L914.5,799.4 L916.2,807 L917.1,803.2 L917.9,803.2 L918.8,795.5 L919.6,799.4 L920.5,795.5 L921.3,807 L922.2,795.5 L924.1,795.5 L924.7,799.4 L926,799.4 L926.6,795.5 L931.4,795.5 L932.1,799.4 L935,799.4 L935.7,803.2 L936.4,803.2 L937.3,799.4 L938.3,807 L939.2,810.9 L940.2,810.9 L941.1,807 L942,807 L943,814.7 L944.9,807 L945.8,810.9 L946.4,810.9 L946.9,807 L947.5,810.9 L948.1,807 L948.6,807 L949.2,803.2 L950.3,810.9 L950.9,799.4 L951.4,803.2 L952,803.2 L952.6,795.5 L953.1,803.2 L953.7,807 L954.5,803.2 L956,803.2" fill="none" stroke="#ff00ff" stroke-width="8" stroke-linejoin="round" stroke-linecap="round"/>
<path d="M955.2,803.2 L956,807 L956.8,799.4 L959.2,799.4 L959.9,803.2 L960.7,784 L961.5,799.4 L963.1,799.4 L964,795.5 L964.8,799.4 L965.7,791.7 L966.6,795.5 L967.4,795.5 L968.3,787.8 L969.1,787.8 L970.9,780.2 L971.7,780.2 L972.6,795.5 L974.4,780.2 L975.4,787.8 L976.3,784 L977.2,784 L978.1,787.8 L979,780.2 L979.9,776.3 L980.9,776.3 L981.8,784 L982.7,776.3 L983.6,780.2 L986.6,780.2 L987.6,776.3 L988.6,784 L989.6,776.3 L990.6,776.3 L991.6,772.5 L992.6,776.3 L994.6,776.3 L995.6,787.8 L996.6,780.2 L997.5,776.3 L998.5,787.8 L999.5,780.2 L1000.5,776.3 L1001.5,784 L1002.4,784 L1003.4,780.2 L1004.4,780.2 L1005.4,776.3 L1006.4,784 L1008.3,776.3 L1009.3,780.2 L1010.3,772.5 L1011.2,780.2 L1012.2,776.3 L1013.2,768.6 L1014.2,772.5 L1015.1,772.5 L1016.1,776.3 L1017.1,772.5 L1018.1,776.3 L1019.1,772.5 L1022,772.5 L1023,768.6 L1023.9,772.5 L1025.9,772.5 L1027,776.3 L1028,768.6 L1029.1,768.6 L1030.1,776.3 L1031.2,776.3 L1032.2,764.8 L1033.2,764.8 L1034.3,772.5 L1035.3,768.6 L1036.4,768.6 L1037.4,764.8 L1039.3,772.5 L1040.3,764.8 L1041.2,772.5 L1042.2,776.3 L1043.1,764.8 L1044.1,768.6 L1045,764.8 L1046.6,764.8 L1047.3,761 L1047.9,764.8 L1048.5,764.8 L1049.2,768.6 L1049.8,768.6 L1050.5,772.5 L1051.1,768.6 L1051.7,776.3 L1052.4,776.3 L1053,780.2 L1053.9,776.3 L1054.8,784 L1055.7,780.2 L1056.6,784 L1057.5,780.2 L1058.4,772.5 L1059.2,780.2 L1060.1,784 L1061,772.5 L1061.9,780.2 L1062.8,772.5 L1063.7,776.3 L1064.6,784 L1065.5,780.2 L1068.6,780.2 L1069.7,784 L1071.7,784 L1072.8,780.2 L1073.8,780.2 L1074.8,791.7 L1075.9,784 L1078,776.3 L1080,784 L1081.1,776.3 L1083.2,784 L1084.2,780.2 L1085.2,784 L1086.2,780.2 L1088.2,780.2 L1089.2,784 L1090.2,780.2 L1091.2,784 L1092.2,776.3 L1093.2,787.8 L1095.2,772.5 L1097,780.2 L1097.9,772.5 L1098.8,768.6 L1099.7,784 L1101.6,776.3 L1102.5,776.3 L1103.4,768.6 L1104.3,768.6 L1105.2,776.3 L1106.1,768.6 L1107.1,772.5 L1108.2,784 L1109.2,776.3 L1110.3,772.5 L1111.3,784 L1112.3,784 L1114.4,776.3 L1115.5,787.8 L1116.5,780.2 L1118.6,772.5 L1120.7,780.2 L1121.7,776.3 L1123.8,784 L1124.8,772.5 L1125.9,772.5 L1127.9,780.2 L1131.1,780.2 L1132.1,776.3 L1134.2,784 L1135.2,776.3 L1137.3,776.3 L1138.3,772.5 L1139.4,772.5 L1140.4,776.3 L1142.5,776.3 L1143.5,772.5 L1144.6,780.2 L1145.6,776.3 L1146.7,787.8 L1148.7,780.2 L1151.9,780.2 L1152.9,776.3 L1153.9,780.2 L1154.9,780.2 L1157,787.8 L1158,784 L1159,776.3 L1160,776.3 L1161,784 L1162,787.8 L1163.1,776.3 L1164.1,768.6 L1165.1,772.5 L1166.1,772.5 L1167.1,768.6 L1168.1,787.8 L1169.1,776.3 L1170.2,780.2 L1172.2,780.2 L1173.2,787.8 L1174.2,780.2 L1175.2,784 L1176.2,776.3 L1177.2,776.3 L1178.1,780.2 L1179.1,780.2 L1180.1,787.8 L1181.1,784 L1182.1,784 L1183.1,787.8 L1186.1,787.8 L1187.1,780.2 L1188,787.8 L1190,780.2 L1191,784 L1192,784 L1193,791.7 L1194,780.2 L1195,784 L1196,784 L1197,791.7 L1197.9,780.2 L1198.9,780.2 L1200.9,787.8 L1201.9,784 L1202.9,795.5 L1203.8,795.5 L1204.7,780.2 L1205.7,791.7 L1206.6,787.8 L1207.5,791.7 L1208.4,791.7 L1209.3,784 L1211.2,791.7 L1212.1,791.7 L1213,787.8 L1213.9,787.8 L1214.8,795.5 L1215.7,780.2 L1216.7,776.3 L1217.6,787.8 L1218.5,784 L1219.5,787.8 L1221.4,787.8 L1222.4,780.2 L1223.3,780.2 L1224.3,784 L1225.3,791.7 L1226.2,784 L1227.2,787.8 L1228.2,787.8 L1229.1,791.7 L1230.1,780.2 L1231.1,787.8 L1232,772.5 L1233,791.7 L1234,780.2 L1234.9,787.8 L1235.9,791.7 L1236.9,784 L1237.8,780.2 L1238.8,784 L1239.8,791.7 L1240.8,780.2 L1241.9,787.8 L1242.9,791.7 L1243.9,784 L1244.9,799.4 L1245.9,787.8 L1248,795.5 L1249,784 L1251,791.7 L1252,784 L1253,787.8 L1254.1,784 L1256.1,791.7 L1257.1,791.7 L1258.1,784 L1259.1,780.2 L1261.2,787.8 L1262.2,787.8 L1263.2,791.7 L1264.3,791.7 L1265.3,784 L1266.4,791.7 L1267.4,784 L1268.4,780.2 L1270.5,787.8 L1271.6,784 L1273.6,791.7 L1274.7,791.7 L1275.7,784 L1276.8,787.8 L1277.8,787.8 L1278.8,784 L1279.8,791.7 L1280.8,787.8 L1281.9,780.2 L1282.9,780.2 L1283.9,776.3 L1284.9,787.8 L1285.9,787.8 L1287,795.5 L1288,784 L1289,784 L1290,791.7 L1291,791.7 L1292,795.5 L1292.9,791.7 L1295.8,791.7 L1296.8,787.8 L1297.8,795.5 L1298.8,787.8 L1299.8,787.8 L1300.7,791.7 L1302.7,784 L1303.6,784 L1304.6,791.7 L1305.6,791.7 L1306.6,795.5 L1308.7,780.2 L1309.7,791.7 L1310.7,795.5 L1311.7,791.7 L1312.7,795.5 L1313.7,791.7 L1314.8,791.7 L1315.8,787.8 L1316.8,795.5 L1317.8,795.5 L1318.8,784 L1319.8,787.8 L1320.9,787.8 L1321.9,795.5 L1322.9,791.7 L1324.9,791.7 L1325.9,787.8 L1327,791.7 L1328,787.8 L1329,791.7 L1330,791.7 L1331,787.8 L1332.1,791.7 L1333.1,799.4 L1334.1,787.8 L1335.1,791.7 L1336.1,791.7 L1337.1,795.5 L1338.2,791.7 L1341.2,791.7 L1342.2,795.5 L1343.2,791.7 L1345.3,791.7 L1346.3,787.8 L1347.3,791.7 L1348.3,784 L1349.3,795.5 L1350.4,791.7 L1355.5,791.7 L1356.6,799.4 L1357.6,791.7 L1358.6,791.7 L1359.7,799.4 L1360.7,791.7 L1361.8,791.7 L1362.8,799.4 L1363.8,799.4 L1364.9,791.7 L1365.9,787.8 L1367,791.7 L1368,784 L1369,787.8 L1370,784 L1370.9,787.8 L1371.9,784 L1372.9,791.7 L1374.9,784 L1375.8,784 L1376.8,787.8 L1377.8,795.5 L1378.8,787.8 L1381.7,787.8 L1382.7,795.5 L1383.7,784 L1384.7,787.8 L1385.7,795.5 L1386.7,795.5 L1387.6,791.7 L1388.6,791.7 L1389.6,803.2 L1390.6,795.5 L1391.6,791.7 L1393.5,799.4 L1395.5,799.4 L1396.5,803.2 L1397.5,795.5 L1398.5,799.4 L1400.4,799.4 L1401.4,810.9 L1402.4,799.4 L1404.5,799.4 L1405.5,807 L1406.6,799.4 L1407.6,807 L1408.7,795.5 L1409.7,799.4 L1410.7,795.5 L1412.8,803.2 L1413.9,799.4 L1414.9,807 L1415.7,799.4 L1416.5,795.5 L1417.2,803.2 L1418,803.2 L1418.8,807 L1419.6,807 L1420.3,810.9 L1421.1,807 L1421.9,810.9 L1422.7,807 L1423.5,807 L1424.2,803.2 L1425,810.9 L1426.8,810.9 L1427.8,807 L1428.8,807 L1429.8,814.7 L1430.9,814.7 L1431.9,818.5 L1432.9,814.7 L1433.9,814.7 L1434.9,810.9 L1435.9,818.5 L1436.9,807 L1437.9,803.2 L1439,818.5 L1440,814.7 L1441,818.5 L1442,810.9 L1443.9,810.9 L1444.8,814.7 L1445.8,822.4 L1446.7,814.7 L1447.6,810.9 L1448.5,810.9 L1449.4,822.4 L1450.3,818.5 L1451.3,818.5 L1452.2,822.4 L1454,814.7 L1454.9,826.2 L1455.8,822.4 L1456.8,814.7 L1457.7,818.5 L1459.6,818.5 L1461.7,826.2 L1463.8,818.5 L1464.8,818.5 L1465.9,822.4 L1466.9,818.5 L1467.9,822.4 L1469,822.4 L1470,818.5 L1471.1,826.2 L1472.1,818.5 L1473.1,814.7 L1474.2,826.2 L1475.2,814.7 L1476.3,818.5 L1479.4,818.5 L1480.4,822.4 L1481.5,814.7 L1482.5,822.4 L1483.5,818.5 L1484.6,826.2 L1485.6,814.7 L1486.7,822.4 L1487.7,822.4 L1488.8,818.5 L1489.8,822.4 L1490.8,814.7 L1491.8,822.4 L1493.8,822.4 L1494.8,826.2 L1495.7,826.2 L1496.7,818.5 L1497.7,826.2 L1498.7,818.5 L1499.7,822.4 L1503.8,822.4 L1504.9,818.5 L1505.9,822.4 L1507,818.5 L1509.1,826.2 L1510.1,818.5 L1512.2,826.2 L1513.2,822.4 L1514.3,826.2 L1515.3,822.4 L1516.4,822.4 L1517.4,818.5 L1518.5,822.4 L1519.5,818.5 L1520.5,818.5 L1521.5,822.4 L1522.5,814.7 L1523.5,822.4 L1524.5,822.4 L1525.5,830.1 L1527.5,822.4 L1528.5,826.2 L1529.5,822.4 L1530.5,830.1 L1531.5,826.2 L1532.5,826.2 L1533.5,830.1 L1534.5,826.2 L1535.5,818.5 L1536.5,830.1 L1538.5,830.1 L1539.5,833.9 L1541.6,833.9 L1543.6,826.2 L1544.6,830.1 L1545.6,830.1 L1546.6,826.2 L1548.6,826.2 L1549.5,830.1 L1550.5,837.7 L1551.5,826.2 L1553.5,833.9 L1554.4,833.9 L1555.4,830.1 L1556.4,841.6 L1557.3,830.1 L1558.3,837.7 L1559.3,830.1 L1560.3,830.1 L1561.2,837.7 L1562.2,837.7 L1563.2,841.6 L1564.2,833.9 L1565.2,837.7 L1566.1,837.7 L1568.1,830.1 L1569,837.7 L1570,833.9 L1571,841.6 L1573,841.6 L1573.9,833.9 L1574.9,837.7 L1575.9,830.1 L1576.8,841.6 L1578.8,841.6 L1579.8,837.7 L1580.9,837.7 L1581.9,841.6 L1583,837.7 L1584,837.7 L1585,845.4 L1586.1,845.4 L1587.1,837.7 L1589.2,845.4 L1590.2,841.6 L1591.3,841.6 L1592.3,845.4 L1593.4,841.6 L1595.5,841.6 L1596.5,849.3 L1597.6,841.6 L1598.6,853.1 L1599.7,845.4 L1600.7,849.3 L1601.8,841.6 L1604.9,841.6 L1606,845.4 L1607,841.6" fill="none" stroke="#008000" stroke-width="8" stroke-linejoin="round" stroke-linecap="round"/>
<path d="M1606.2,845.4 L1608.2,837.7 L1609.2,841.6 L1611.3,841.6 L1612.3,837.7 L1613.3,837.7 L1614.3,833.9 L1615.3,837.7 L1616.3,837.7 L1617.3,833.9 L1618.3,837.7 L1620.4,830.1 L1621.4,830.1 L1622.4,841.6 L1624.4,833.9 L1625.4,837.7 L1626.5,837.7 L1627.5,833.9 L1629.5,841.6 L1630.5,830.1 L1631.5,826.2 L1632.6,826.2 L1633.6,833.9 L1634.6,830.1 L1635.6,833.9 L1637.6,833.9 L1638.7,841.6 L1639.7,830.1 L1640.7,845.4 L1641.7,841.6 L1642.7,845.4 L1643.7,837.7 L1644.8,837.7 L1645.8,833.9 L1646.8,833.9 L1647.8,837.7 L1649.9,837.7 L1651,841.6 L1652,833.9 L1653.1,841.6 L1654.1,845.4 L1655.2,833.9 L1656.2,837.7 L1657.2,830.1 L1658.3,833.9 L1659.3,833.9 L1660.4,837.7 L1661.4,837.7 L1662.5,833.9 L1663.5,833.9 L1664.6,837.7 L1665.6,833.9 L1666.6,833.9 L1667.7,830.1 L1668.7,830.1 L1669.8,826.2 L1670.8,833.9 L1671.8,822.4 L1672.9,837.7 L1673.9,830.1 L1676,837.7 L1677,837.7 L1678.1,830.1 L1679.1,830.1 L1680.1,833.9 L1681.2,830.1 L1682.2,837.7 L1683.2,830.1 L1684.3,837.7 L1685.3,830.1 L1686.4,830.1 L1687.4,837.7 L1688.4,830.1 L1689.4,833.9 L1690.4,833.9 L1691.4,826.2 L1692.4,837.7 L1693.4,830.1 L1694.5,830.1 L1695.5,837.7 L1696.5,830.1 L1697.5,837.7 L1699.5,830.1 L1700.5,833.9 L1701.5,826.2 L1702.5,837.7 L1703.5,830.1 L1704.5,826.2 L1705.5,826.2 L1706.5,833.9 L1708.4,826.2 L1712.4,826.2 L1714.4,833.9 L1715.4,826.2 L1716.5,833.9 L1717.5,826.2 L1718.5,833.9 L1719.5,826.2 L1720.5,826.2 L1721.5,822.4 L1722.6,830.1 L1723.6,822.4 L1724.6,822.4 L1725.6,818.5 L1726.6,826.2 L1727.6,830.1 L1729.7,822.4 L1732.7,822.4 L1733.7,826.2 L1735.8,826.2 L1736.8,818.5 L1737.8,826.2 L1738.8,826.2 L1739.8,818.5 L1741.9,826.2 L1742.9,818.5 L1743.9,814.7 L1744.9,822.4 L1745.9,818.5 L1746.9,822.4 L1749,814.7 L1750,818.5 L1751,818.5 L1752,814.7 L1753,814.7 L1754.1,822.4 L1755.1,822.4 L1756.1,810.9 L1758.1,810.9 L1759.2,822.4 L1760.2,818.5 L1763.2,818.5 L1765.3,826.2 L1766.3,810.9 L1767.3,818.5 L1768.3,818.5 L1769.3,814.7 L1770.3,818.5 L1771.4,810.9 L1772.4,822.4 L1773.4,814.7 L1775.4,822.4 L1776.4,814.7 L1777.5,818.5 L1779.5,818.5 L1780.5,814.7 L1781.5,814.7 L1782.6,810.9 L1783.6,810.9 L1784.6,814.7 L1785.6,814.7 L1786.6,818.5 L1787.6,814.7 L1788.7,814.7 L1789.7,818.5 L1791.7,818.5 L1792.7,803.2 L1793.7,818.5 L1795.8,810.9 L1797.8,810.9 L1798.8,814.7 L1799.8,814.7 L1800.9,822.4 L1801.9,810.9 L1802.9,810.9 L1803.9,803.2 L1804.9,807 L1806.8,799.4 L1808.8,814.7 L1809.7,795.5 L1811.7,810.9 L1812.7,814.7 L1813.6,803.2 L1814.6,814.7 L1816.5,807 L1817.5,810.9 L1818.5,810.9 L1819.5,803.2 L1820.5,807 L1821.6,807 L1822.6,810.9 L1823.6,807 L1824.6,807 L1825.7,810.9 L1826.7,810.9 L1827.7,807 L1828.7,807 L1829.7,799.4 L1830.8,810.9 L1831.8,799.4 L1832.8,810.9 L1833.8,803.2 L1834.8,807 L1836.9,799.4 L1837.9,803.2 L1838.9,799.4 L1840,810.9 L1841,803.2 L1842,803.2 L1843,807 L1844,799.4 L1844.9,799.4 L1845.9,803.2 L1846.9,803.2 L1847.8,795.5 L1849.8,803.2 L1850.8,799.4 L1851.8,799.4 L1852.7,795.5 L1853.7,803.2 L1854.7,795.5 L1855.7,803.2 L1856.6,799.4 L1857.6,799.4 L1858.6,791.7 L1859.6,799.4 L1860.5,799.4 L1861.5,791.7 L1862.5,795.5 L1863.5,795.5 L1864.4,791.7 L1865.4,799.4 L1866.4,795.5 L1867.4,787.8 L1868.5,795.5 L1869.5,791.7 L1870.5,784 L1871.5,791.7 L1872.5,791.7 L1873.5,787.8 L1874.6,795.5 L1875.6,787.8 L1876.6,791.7 L1877.6,799.4 L1880.7,787.8 L1881.7,791.7 L1882.7,787.8 L1883.7,795.5 L1884.7,795.5 L1885.7,787.8 L1886.8,799.4 L1887.8,787.8 L1890.8,787.8 L1891.7,784 L1892.7,787.8 L1893.7,787.8 L1894.7,791.7 L1895.6,791.7 L1896.6,795.5 L1897.6,787.8 L1899.5,795.5 L1900.5,784 L1901.5,799.4 L1902.5,784 L1903.4,791.7 L1904.4,787.8 L1910.2,787.8 L1911.2,791.7 L1912.2,787.8 L1913.2,787.8 L1914.3,784 L1915.3,787.8 L1918.4,787.8 L1919.5,784 L1920.5,787.8 L1921.6,780.2 L1922.6,780.2 L1924.7,787.8 L1925.7,780.2 L1926.8,787.8 L1927.8,772.5 L1928.8,784 L1930.8,784 L1931.9,787.8 L1932.9,784 L1933.9,784 L1934.9,776.3 L1935.9,787.8 L1937,791.7 L1938,784 L1939,791.7 L1940,787.8 L1941,791.7 L1942.1,784 L1943.1,780.2 L1944.2,780.2 L1946.2,787.8 L1947.3,780.2 L1948.3,787.8 L1949.4,780.2 L1950.4,780.2 L1951.4,784 L1952.5,780.2 L1953.5,784 L1954.6,780.2 L1955.6,787.8 L1956.6,772.5 L1957.5,776.3 L1958.5,776.3 L1959.5,784 L1960.5,784 L1961.5,780.2 L1962.4,780.2 L1963.4,784 L1964.4,780.2 L1965.3,784 L1966.3,780.2 L1967.3,791.7 L1968.3,784 L1969.2,780.2 L1970.2,772.5 L1971.2,776.3 L1972.2,776.3 L1973.3,772.5 L1975.4,787.8 L1976.4,780.2 L1977.4,787.8 L1978.5,772.5 L1979.5,768.6 L1980.6,780.2 L1982.6,772.5 L1983.7,772.5 L1984.7,776.3 L1985.8,772.5 L1986.8,780.2 L1989.7,768.6 L1990.7,776.3 L1993.6,776.3 L1995.6,768.6 L1996.5,768.6 L1997.5,772.5 L1999.5,772.5 L2000.5,768.6 L2002.4,784 L2004.1,768.6 L2005,772.5 L2005.9,772.5 L2006.7,776.3 L2007.6,776.3 L2008.5,764.8 L2009.3,772.5 L2010.2,768.6 L2011.2,776.3 L2012.2,757.1 L2013.2,768.6 L2015.2,776.3 L2016.2,768.6 L2017.2,776.3 L2018.2,772.5 L2019.2,764.8 L2020.2,772.5 L2021.2,772.5 L2022.2,776.3 L2023.1,772.5 L2024.1,772.5 L2025,768.6 L2026,776.3 L2028.9,776.3 L2029.9,780.2 L2030.8,780.2 L2031.8,784 L2032.7,780.2 L2033.7,780.2 L2034.7,772.5 L2036.6,780.2 L2037.6,772.5 L2038.6,776.3 L2039.6,776.3 L2040.5,780.2 L2041.5,772.5 L2042.5,776.3 L2043.5,768.6 L2044.4,772.5 L2045.4,780.2 L2046.4,780.2 L2047.4,768.6 L2048.3,776.3 L2049.3,780.2 L2050.3,776.3 L2052.4,784 L2053.5,784 L2054.5,772.5 L2055.5,780.2 L2056.6,776.3 L2057.6,780.2 L2058.7,768.6 L2059.7,784 L2060.7,784 L2061.8,776.3 L2062.8,780.2 L2063.9,780.2 L2064.9,784 L2065.9,784 L2066.8,780.2 L2067.8,787.8 L2068.8,784 L2069.8,795.5 L2070.8,784 L2071.7,787.8 L2073.7,780.2 L2074.7,784 L2075.6,795.5 L2076.6,787.8 L2077.6,787.8 L2078.6,784 L2079.5,795.5 L2080.5,795.5 L2081.5,799.4 L2082.6,784 L2083.6,787.8 L2084.7,787.8 L2085.7,795.5 L2086.7,787.8 L2087.8,787.8 L2089.9,795.5 L2090.9,791.7 L2091.9,791.7 L2093,795.5 L2094,787.8 L2095.1,784 L2097.1,799.4 L2098.2,787.8 L2099.2,787.8 L2100.3,791.7 L2101.3,784 L2102.3,787.8 L2103.4,787.8 L2105.5,780.2 L2106.5,784 L2107.5,784 L2108.6,787.8 L2111.7,787.8 L2112.7,791.7 L2113.8,776.3 L2114.8,784 L2115.9,787.8 L2116.9,787.8 L2117.9,791.7 L2121.1,791.7 L2123.1,784 L2124.2,799.4 L2125.2,791.7 L2126.3,787.8 L2127.3,791.7 L2128.3,799.4 L2129.4,787.8 L2130.4,784 L2131.5,787.8 L2133.5,787.8 L2134.6,784 L2135.6,791.7 L2136.7,795.5 L2137.7,791.7 L2138.7,784 L2139.8,791.7 L2140.8,784 L2141.9,791.7 L2142.9,787.8 L2143.9,780.2 L2144.8,784 L2145.8,791.7 L2146.8,787.8 L2147.8,791.7 L2148.8,791.7 L2149.7,787.8 L2150.7,787.8 L2151.7,784 L2152.7,787.8 L2154.6,787.8 L2155.6,791.7 L2156.6,791.7 L2157.5,787.8 L2158.5,791.7 L2160.4,791.7 L2161.4,799.4 L2162.4,791.7 L2163.4,787.8 L2164.4,795.5 L2165.3,795.5 L2166.3,799.4 L2167.3,784 L2168.3,795.5 L2169.3,795.5 L2170.3,791.7 L2171.3,799.4 L2172.3,791.7 L2173.3,799.4 L2175.3,799.4 L2176.3,795.5 L2177.3,799.4 L2179.4,791.7 L2180.4,795.5 L2181.5,795.5 L2182.5,803.2 L2183.6,799.4 L2185.6,784 L2186.7,787.8 L2187.7,795.5 L2188.8,795.5 L2189.8,799.4 L2190.8,799.4 L2191.9,791.7 L2192.9,791.7 L2194,795.5 L2195,795.5 L2196,799.4 L2197.1,791.7 L2198.1,795.5 L2199.2,795.5 L2200.2,799.4 L2201.2,795.5 L2202.3,795.5 L2204.4,787.8 L2205.4,787.8 L2206.4,799.4 L2207.5,795.5 L2208.5,787.8 L2209.6,791.7 L2210.6,784 L2212.7,799.4 L2213.7,787.8 L2214.8,780.2 L2215.8,799.4 L2216.8,787.8 L2217.9,784 L2218.9,784 L2220,791.7 L2221,787.8 L2222,787.8 L2223.1,791.7 L2224.1,784 L2225.1,791.7 L2226.1,784 L2227.2,795.5 L2228.2,787.8 L2229.2,791.7 L2230.2,787.8 L2231.3,791.7 L2232.3,787.8 L2233.3,791.7 L2234.3,799.4 L2235.4,787.8 L2236.4,795.5 L2239.5,795.5 L2240.5,791.7" fill="none" stroke="#000080" stroke-width="8" stroke-linejoin="round" stroke-linecap="round"/>
<text x="259" y="1428.3" font-family='"Liberation Sans", Arial, sans-serif' font-size="56" text-anchor="end">6.0</text>
<text x="259" y="1236.4" font-family='"Liberation Sans", Arial, sans-serif' font-size="56" text-anchor="end">6.5</text>
<text x="259" y="1044.5" font-family='"Liberation Sans", Arial, sans-serif' font-size="56" text-anchor="end">7.0</text>
<text x="259" y="852.5" font-family='"Liberation Sans", Arial, sans-serif' font-size="56" text-anchor="end">7.5</text>
<text x="259" y="660.6" font-family='"Liberation Sans", Arial, sans-serif' font-size="56" text-anchor="end">8.0</text>
<text x="259" y="468.7" font-family='"Liberation Sans", Arial, sans-serif' font-size="56" text-anchor="end">8.5</text>
<text x="259" y="276.7" font-family='"Liberation Sans", Arial, sans-serif' font-size="56" text-anchor="end">9.0</text>
<text x="259" y="84.8" font-family='"Liberation Sans", Arial, sans-serif' font-size="56" text-anchor="end">9.5</text>
<text x="306" y="1599" font-family='"Liberation Sans", Arial, sans-serif' font-size="55" text-anchor="middle">0</text>
<text x="758.4" y="1599" font-family='"Liberation Sans", Arial, sans-serif' font-size="55" text-anchor="middle">1000</text>
<text x="1210.9" y="1599" font-family='"Liberation Sans", Arial, sans-serif' font-size="55" text-anchor="middle">2000</text>
<text x="1663.3" y="1599" font-family='"Liberation Sans", Arial, sans-serif' font-size="55" text-anchor="middle">3000</text>
<text x="2115.8" y="1599" font-family='"Liberation Sans", Arial, sans-serif' font-size="55" text-anchor="middle">4000</text>
<text x="1325" y="1707" font-family='"Liberation Sans", Arial, sans-serif' font-size="69" text-anchor="middle">Time (min)</text>
<text transform="translate(81.5,826) rotate(-90)" font-family='"Liberation Sans", Arial, sans-serif' font-size="69" text-anchor="middle">pH</text>
<rect x="1102" y="166.7" width="758" height="541.5" fill="none" stroke="#000" stroke-width="3.5"/>
<g transform="rotate(-0.93 1481 437.4)">
<path d="M1150,232 H1307" stroke="#000" stroke-width="8" stroke-linecap="round"/>
<text x="1322" y="253.7" font-family='"Liberation Sans", Arial, sans-serif' font-size="55.8">24 h - FeMnSiAl_C</text>
<path d="M1150,317.9 H1307" stroke="#ff0000" stroke-width="8" stroke-linecap="round"/>
<text x="1322" y="339.6" font-family='"Liberation Sans", Arial, sans-serif' font-size="55.8">48 h - FeMnSiAl_C</text>
<path d="M1150,403.8 H1307" stroke="#0000ff" stroke-width="8" stroke-linecap="round"/>
<text x="1322" y="425.5" font-family='"Liberation Sans", Arial, sans-serif' font-size="55.8">72 h - FeMnSiAl_C</text>
<path d="M1150,489.7 H1307" stroke="#ff00ff" stroke-width="8" stroke-linecap="round"/>
<text x="1322" y="511.4" font-family='"Liberation Sans", Arial, sans-serif' font-size="55.8">24 h - FeMnSiAl_HR</text>
<path d="M1150,575.6 H1307" stroke="#008000" stroke-width="8" stroke-linecap="round"/>
<text x="1322" y="597.3" font-family='"Liberation Sans", Arial, sans-serif' font-size="55.8">48 h - FeMnSiAl_HR</text>
<path d="M1150,661.5 H1307" stroke="#000080" stroke-width="8" stroke-linecap="round"/>
<text x="1322" y="683.2" font-family='"Liberation Sans", Arial, sans-serif' font-size="55.8">72 h - FeMnSiAl_HR</text>
</g>
</svg>
</body></html>
